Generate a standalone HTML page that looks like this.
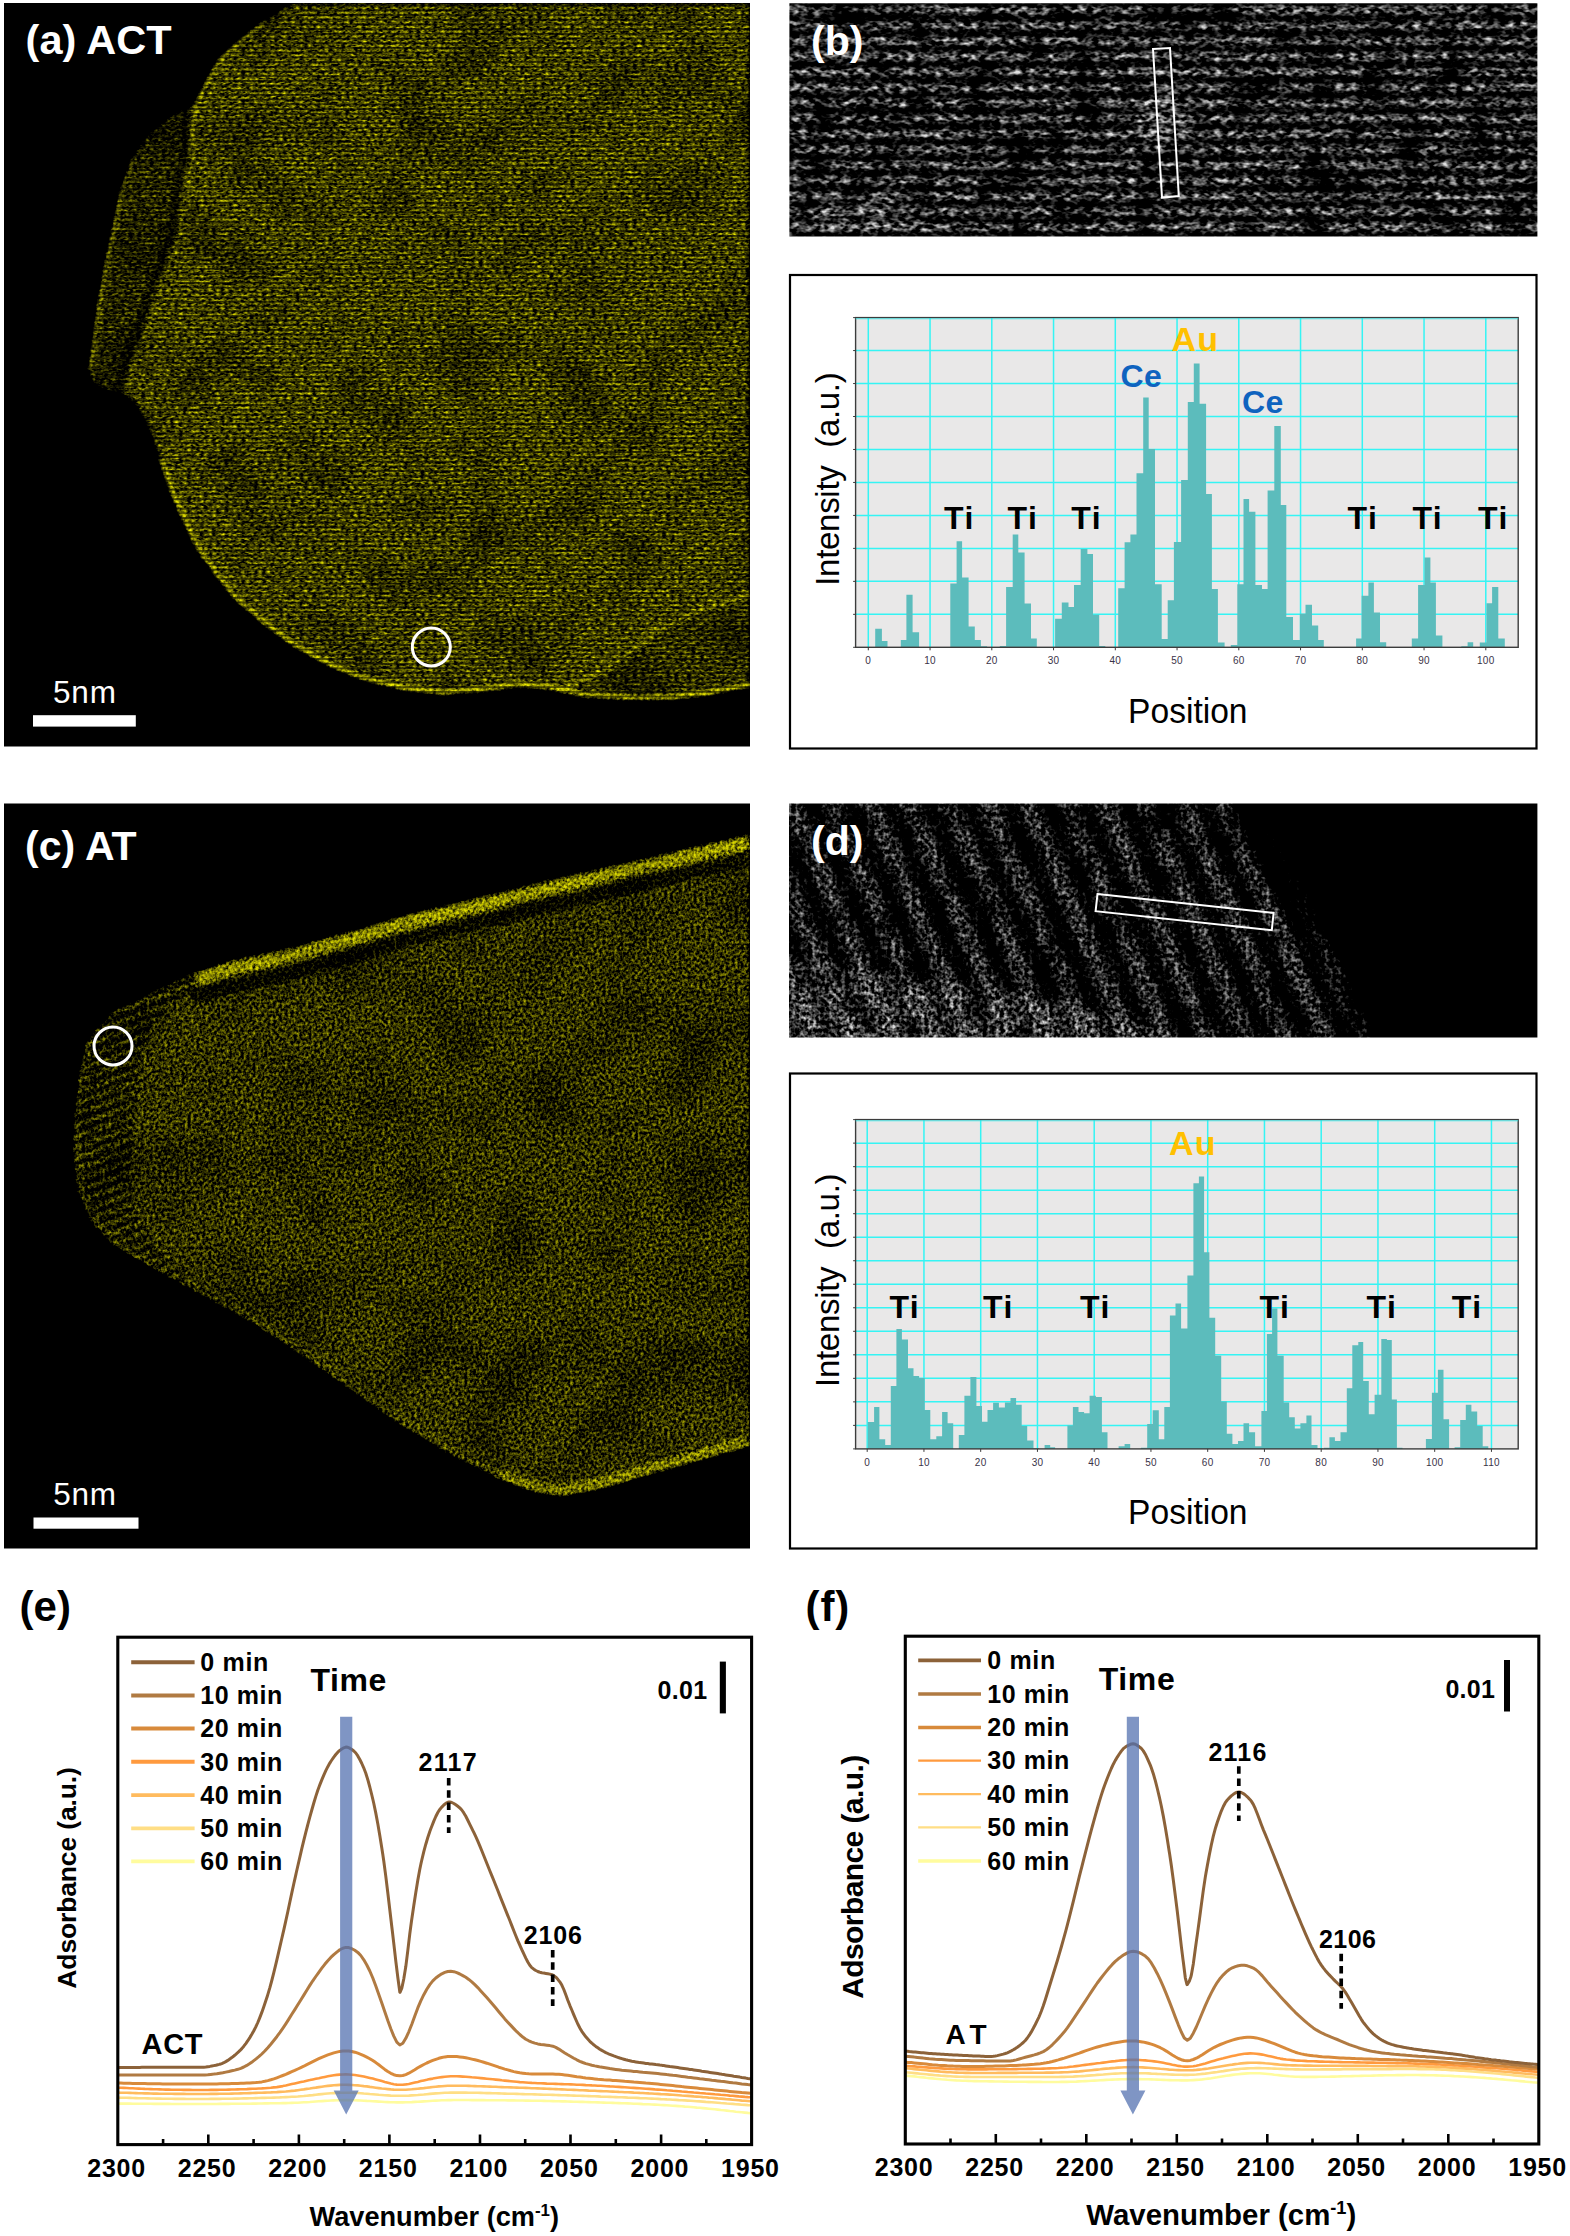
<!DOCTYPE html>
<html><head><meta charset="utf-8"><title>Figure</title>
<style>html,body{margin:0;padding:0;background:#fff}svg{display:block}text{font-family:"Liberation Sans",sans-serif}</style></head>
<body>
<svg width="1570" height="2236" viewBox="0 0 1570 2236">
<defs>
<clipPath id="cA"><rect x="4" y="3" width="746" height="743.5"/></clipPath>
<clipPath id="cC"><rect x="4" y="803.5" width="746" height="745"/></clipPath>
<clipPath id="cB"><rect x="789.4" y="3.2" width="748" height="233.3"/></clipPath>
<clipPath id="cD"><rect x="789" y="803.6" width="748.4" height="234"/></clipPath>
<filter id="fA" filterUnits="userSpaceOnUse" x="4" y="3" width="746" height="744" color-interpolation-filters="sRGB"><feGaussianBlur in="SourceGraphic" stdDeviation="2.0" result="s"/><feTurbulence type="fractalNoise" baseFrequency="0.24 0.42" numOctaves="2" seed="4" result="t"/><feColorMatrix in="t" type="matrix" values="1 0 0 0 0  1 0 0 0 0  1 0 0 0 0  0 0 0 0 1" result="n"/><feTurbulence type="fractalNoise" baseFrequency="0.018" numOctaves="2" seed="15" result="t2"/><feColorMatrix in="t2" type="matrix" values="0.55 0 0 0 0.7  0.55 0 0 0 0.7  0.55 0 0 0 0.7  0 0 0 0 1" result="n2"/><feComposite in="s" in2="n2" operator="arithmetic" k1="1" k2="0" k3="0" k4="0" result="s2"/><feComposite in="s2" in2="n" operator="arithmetic" k1="2.3" k2="-0.1" k3="0" k4="-0.44" result="g"/><feColorMatrix in="g" type="matrix" values="0.95 0 0 0 0  0.94 0 0 0 0  0 0 0 0 0  0 0 0 0 1"/></filter>
<filter id="fC" filterUnits="userSpaceOnUse" x="4" y="803" width="746" height="746" color-interpolation-filters="sRGB"><feGaussianBlur in="SourceGraphic" stdDeviation="1.7" result="s"/><feTurbulence type="fractalNoise" baseFrequency="0.34" numOctaves="2" seed="9" result="t"/><feColorMatrix in="t" type="matrix" values="1 0 0 0 0  1 0 0 0 0  1 0 0 0 0  0 0 0 0 1" result="n"/><feTurbulence type="fractalNoise" baseFrequency="0.015" numOctaves="2" seed="20" result="t2"/><feColorMatrix in="t2" type="matrix" values="0.5 0 0 0 0.72  0.5 0 0 0 0.72  0.5 0 0 0 0.72  0 0 0 0 1" result="n2"/><feComposite in="s" in2="n2" operator="arithmetic" k1="1" k2="0" k3="0" k4="0" result="s2"/><feComposite in="s2" in2="n" operator="arithmetic" k1="2.4" k2="-0.15" k3="0" k4="-0.46" result="g"/><feColorMatrix in="g" type="matrix" values="0.82 0 0 0 0  0.81 0 0 0 0  0 0 0 0 0  0 0 0 0 1"/></filter>
<filter id="fAe" filterUnits="userSpaceOnUse" x="4" y="3" width="746" height="744" color-interpolation-filters="sRGB"><feGaussianBlur in="SourceGraphic" stdDeviation="2.2" result="s"/><feTurbulence type="fractalNoise" baseFrequency="0.3 0.3" numOctaves="2" seed="14" result="t"/><feColorMatrix in="t" type="matrix" values="1 0 0 0 0  1 0 0 0 0  1 0 0 0 0  0 0 0 0 1" result="n"/><feComposite in="s" in2="n" operator="arithmetic" k1="2.0" k2="0.35" k3="0" k4="-0.45" result="g"/><feColorMatrix in="g" type="matrix" values="0 0 0 0 0.97  0 0 0 0 0.96  0 0 0 0 0  1 0 0 0 0"/></filter>
<filter id="fCe" filterUnits="userSpaceOnUse" x="4" y="803" width="746" height="746" color-interpolation-filters="sRGB"><feGaussianBlur in="SourceGraphic" stdDeviation="4.0" result="s"/><feTurbulence type="fractalNoise" baseFrequency="0.3" numOctaves="2" seed="19" result="t"/><feColorMatrix in="t" type="matrix" values="1 0 0 0 0  1 0 0 0 0  1 0 0 0 0  0 0 0 0 1" result="n"/><feComposite in="s" in2="n" operator="arithmetic" k1="2.4" k2="0.2" k3="0" k4="-0.45" result="g"/><feColorMatrix in="g" type="matrix" values="0 0 0 0 0.95  0 0 0 0 0.94  0 0 0 0 0  1 0 0 0 0"/></filter>
<filter id="fB" filterUnits="userSpaceOnUse" x="789" y="3" width="749" height="234" color-interpolation-filters="sRGB"><feGaussianBlur in="SourceGraphic" stdDeviation="1.6" result="s"/><feTurbulence type="fractalNoise" baseFrequency="0.14 0.24" numOctaves="2" seed="21" result="t"/><feColorMatrix in="t" type="matrix" values="1 0 0 0 0  1 0 0 0 0  1 0 0 0 0  0 0 0 0 1" result="n"/><feTurbulence type="fractalNoise" baseFrequency="0.03" numOctaves="2" seed="32" result="t2"/><feColorMatrix in="t2" type="matrix" values="1.6 0 0 0 0.2  1.6 0 0 0 0.2  1.6 0 0 0 0.2  0 0 0 0 1" result="n2"/><feComposite in="s" in2="n2" operator="arithmetic" k1="1" k2="0" k3="0" k4="0" result="s2"/><feComposite in="s2" in2="n" operator="arithmetic" k1="3.6" k2="-0.7" k3="0" k4="-0.41" result="g"/><feColorMatrix in="g" type="matrix" values="0.88 0 0 0 0  0.88 0 0 0 0  0.88 0 0 0 0  0 0 0 0 1"/></filter>
<filter id="fD" filterUnits="userSpaceOnUse" x="789" y="803" width="749" height="235" color-interpolation-filters="sRGB"><feGaussianBlur in="SourceGraphic" stdDeviation="3" result="s"/><feTurbulence type="fractalNoise" baseFrequency="0.24" numOctaves="2" seed="33" result="t"/><feColorMatrix in="t" type="matrix" values="1 0 0 0 0  1 0 0 0 0  1 0 0 0 0  0 0 0 0 1" result="n"/><feTurbulence type="fractalNoise" baseFrequency="0.03" numOctaves="2" seed="44" result="t2"/><feColorMatrix in="t2" type="matrix" values="1.2 0 0 0 0.4  1.2 0 0 0 0.4  1.2 0 0 0 0.4  0 0 0 0 1" result="n2"/><feComposite in="s" in2="n2" operator="arithmetic" k1="1" k2="0" k3="0" k4="0" result="s2"/><feComposite in="s2" in2="n" operator="arithmetic" k1="3.6" k2="-0.7" k3="0" k4="-0.41" result="g"/><feColorMatrix in="g" type="matrix" values="0.85 0 0 0 0  0.85 0 0 0 0  0.85 0 0 0 0  0 0 0 0 1"/></filter>
<pattern id="pRowsA" patternUnits="userSpaceOnUse" x="0" y="0" width="10" height="4.7"><rect x="0" y="0" width="10" height="2.0" fill="#000"/></pattern>
<pattern id="pRowsB" patternUnits="userSpaceOnUse" x="0" y="6" width="20" height="15.5"><rect x="0" y="0" width="20" height="8" fill="#fff"/></pattern>
<pattern id="pDiagD" patternUnits="userSpaceOnUse" x="0" y="0" width="36" height="20" patternTransform="rotate(-23.5)"><rect x="0" y="0" width="19" height="20" fill="#fff"/></pattern>
<pattern id="pDiagC" patternUnits="userSpaceOnUse" x="0" y="0" width="20" height="10.3" patternTransform="rotate(-20)"><rect x="0" y="0" width="20" height="4.6" fill="#fff"/></pattern>
</defs>
<g>
<g clip-path="url(#cA)">
<g filter="url(#fA)">
<rect x="0" y="0" width="760" height="755" fill="#000"/>
<path d="M750 3L292 3L264 20L238 41L218 59L205 82L195 102L172 115L149 132L131 158L119 191L111 229L103 267L96 306L91 344L87 372L95 385L110 392L124 395L135 403L147 425L160 460L172 495L185 525L197 550L215 575L235 600L260 622L290 645L325 665L360 680L400 690L440 695L480 692L520 687L550 690L580 697L625 700L670 700L710 695L750 687Z" fill="#fff" fill-opacity="0.6"/>
<path d="M750 3L292 3L264 20L238 41L218 59L205 82L195 102L190 132L192 153L185 178L180 217L175 242L162 280L149 318L134 357L124 395L135 403L147 425L160 460L172 495L185 525L197 550L215 575L235 600L260 622L290 645L325 665L360 680L400 690L440 695L480 692L520 687L550 690L580 697L625 700L670 700L710 695L750 687Z" fill="#fff" fill-opacity="0.375"/>
<path d="M195 102L190 132L192 153L185 178L180 217L175 242L162 280L149 318L134 357L124 395" fill="none" stroke="#000" stroke-width="7" stroke-opacity="0.25" transform="translate(-7,0)"/>
<path d="M238 41L218 59L205 82L195 102L190 132L192 153L185 178L180 217L175 242L162 280L149 318L134 357L124 395" fill="none" stroke="#fff" stroke-width="5" stroke-opacity="0.4" transform="translate(2,0)"/>
<path d="M750 600L700 612L660 632L628 656L590 680L557 694L750 720Z" fill="#000" fill-opacity="0.1"/>
<path d="M750 596L700 609L660 629L628 654L590 677L557 691" fill="none" stroke="#fff" stroke-width="6" stroke-opacity="0.5"/>
<path d="M119 191L111 229L103 267L96 306L91 344L87 372" fill="none" stroke="#fff" stroke-width="6" stroke-opacity="0.3" transform="translate(4,0)"/>
</g>
<g filter="url(#fAe)">
<rect x="0" y="0" width="760" height="755" fill="#000"/>
<path d="M160 460L172 495L185 525L197 550L215 575L235 600L260 622L290 645L325 665L360 680L400 690L440 695L480 692L520 687L550 690L580 697L625 700L670 700L710 695L750 687" fill="none" stroke="#fff" stroke-width="6" stroke-opacity="0.95" transform="translate(1,-3)"/>
<path d="M264 20L238 41L218 59L205 82L195 102L190 132L192 153" fill="none" stroke="#fff" stroke-width="4.5" stroke-opacity="0.85" transform="translate(2,1)"/>
<path d="M192 153L185 178L180 217L175 242L162 280L149 318L134 357L124 395" fill="none" stroke="#fff" stroke-width="4" stroke-opacity="0.6" transform="translate(2,0)"/>
<path d="M131 158L119 191L111 229L103 267L96 306L91 344L87 372" fill="none" stroke="#fff" stroke-width="5" stroke-opacity="0.7" transform="translate(3,0)"/>
<path d="M750 596L700 609L660 629L628 654L590 677L557 691" fill="none" stroke="#fff" stroke-width="5" stroke-opacity="0.6"/>
</g>
<rect x="4" y="3" width="746" height="743.5" fill="url(#pRowsA)" opacity="0.6"/>
</g>
<circle cx="431.3" cy="647" r="19" fill="none" stroke="#fff" stroke-width="3"/>
<rect x="33" y="715.2" width="102.8" height="11.4" fill="#fff"/>
<text x="53" y="702.6" font-size="31.5" font-weight="normal" fill="#fff" text-anchor="start" letter-spacing="0.8">5nm</text>
<text x="25.6" y="53.8" font-size="41.5" font-weight="bold" fill="#fff" text-anchor="start" >(a) ACT</text>
</g>
<g>
<g clip-path="url(#cB)">
<g filter="url(#fB)">
<rect x="780" y="-5" width="770" height="250" fill="#000"/>
<rect x="780" y="-5" width="770" height="250" fill="#fff" fill-opacity="0.34"/>
<rect x="780" y="-5" width="770" height="250" fill="url(#pRowsB)" fill-opacity="0.5"/>
<ellipse cx="1165" cy="120" rx="28" ry="32" fill="#fff" fill-opacity="0.3"/>
<ellipse cx="870" cy="215" rx="60" ry="18" fill="#fff" fill-opacity="0.3"/>
</g>
</g>
<path d="M1153 49L1170 48L1178.8 196L1162 197.6Z" fill="none" stroke="#fff" stroke-width="2"/>
<text x="811" y="54.6" font-size="41" font-weight="bold" fill="#fff" text-anchor="start" >(b)</text>
</g>
<g>
<g clip-path="url(#cC)">
<g filter="url(#fC)">
<rect x="0" y="795" width="760" height="760" fill="#000"/>
<path d="M750 833L650 856L550 879L460 901L400 915L366 926L289 947L226 961L187 975L149 992L111 1012L86 1040L78 1075L74 1110L72.5 1150L76 1190L90 1222L112 1245L145 1265L200 1295L250 1322L300 1355L350 1390L400 1425L450 1455L500 1480L535 1493L560 1497L600 1490L650 1475L700 1461L750 1447Z" fill="#fff" fill-opacity="0.44"/>
<path d="M750 833L650 856L550 879L460 901L400 915L366 926L289 947L226 961L187 975L149 992L111 1012L86 1040L78 1075L74 1110L72.5 1150L76 1190L90 1222L112 1245L145 1265L200 1295L250 1322L300 1355L350 1390L400 1425L450 1455L500 1480L535 1493L560 1497L600 1490L650 1475L700 1461L750 1447Z" fill="url(#pDiagC)" fill-opacity="0.5"/>
<path d="M750 833L650 856L550 879L460 901L400 915L366 926L289 947L226 961L200 985L170 1005L150 1030L139 1055L135 1094L132 1132L130 1170L132 1208L147 1237L170 1262L200 1295L250 1322L300 1355L350 1390L400 1425L450 1455L500 1480L535 1493L560 1497L600 1490L650 1475L700 1461L750 1447Z" fill="#000" fill-opacity="1"/>
<path d="M750 833L650 856L550 879L460 901L400 915L366 926L289 947L226 961L200 985L170 1005L150 1030L139 1055L135 1094L132 1132L130 1170L132 1208L147 1237L170 1262L200 1295L250 1322L300 1355L350 1390L400 1425L450 1455L500 1480L535 1493L560 1497L600 1490L650 1475L700 1461L750 1447Z" fill="#fff" fill-opacity="0.66"/>
<path d="M750 843L650 866L550 889L460 911L400 925L366 936L289 957L226 971L195 981" fill="none" stroke="#000" stroke-width="14" stroke-opacity="0.3" transform="translate(-3,17)"/>
<path d="M750 843L650 866L550 889L460 911L400 925L366 936L289 957L226 971L195 981" fill="none" stroke="#fff" stroke-width="14" stroke-opacity="0.75"/>
<path d="M500 1480L535 1493L560 1497L600 1490L650 1475L700 1461L750 1447" fill="none" stroke="#fff" stroke-width="12" stroke-opacity="0.6" transform="translate(0,-7)"/>
<path d="M86 1040L78 1075L74 1110L72.5 1150L76 1190L90 1222L112 1245L145 1265L200 1295L250 1322L300 1355L350 1390L400 1425L450 1455L500 1480" fill="none" stroke="#fff" stroke-width="7" stroke-opacity="0.2" transform="translate(5,-3)"/>
</g>
<g filter="url(#fCe)">
<rect x="0" y="795" width="760" height="760" fill="#000"/>
<path d="M750 843L650 866L550 889L460 911L400 925L366 936L289 957L226 971L195 981" fill="none" stroke="#fff" stroke-width="12" stroke-opacity="0.66" transform="translate(0,-1)"/>
<path d="M500 1480L535 1493L560 1497L600 1490L650 1475L700 1461L750 1447" fill="none" stroke="#fff" stroke-width="10" stroke-opacity="0.62" transform="translate(0,-6)"/>
</g>
</g>
<circle cx="113" cy="1046" r="19" fill="none" stroke="#fff" stroke-width="3"/>
<rect x="33.5" y="1517.5" width="105" height="11.2" fill="#fff"/>
<text x="53.2" y="1505.2" font-size="31.5" font-weight="normal" fill="#fff" text-anchor="start" letter-spacing="0.8">5nm</text>
<text x="25" y="860" font-size="41" font-weight="bold" fill="#fff" text-anchor="start" >(c) AT</text>
</g>
<g>
<g clip-path="url(#cD)">
<g filter="url(#fD)">
<rect x="780" y="795" width="770" height="250" fill="#000"/>
<path d="M780 795L1250 795L1285 850L1315 895L1350 940L1375 990L1397 1045L780 1045Z" fill="#fff" fill-opacity="0.28"/>
<path d="M780 795L1250 795L1285 850L1315 895L1350 940L1375 990L1397 1045L780 1045Z" fill="url(#pDiagD)" fill-opacity="0.36"/>
<path d="M780 960L900 975L1000 990L1100 1010L1200 1045L780 1045Z" fill="#fff" fill-opacity="0.3"/>
<path d="M1250 795L1285 850L1315 895L1350 940L1375 990L1397 1045" fill="none" stroke="#000" stroke-width="70" stroke-opacity="0.3"/>
<path d="M1250 795L1285 850L1315 895L1350 940L1375 990L1397 1045" fill="none" stroke="#000" stroke-width="36" stroke-opacity="0.4"/>
</g>
</g>
<path d="M1097.5 894L1273.6 913L1271.8 930.2L1095.6 911.2Z" fill="none" stroke="#fff" stroke-width="2"/>
<text x="811" y="855" font-size="41" font-weight="bold" fill="#fff" text-anchor="start" >(d)</text>
</g>
<g>
<rect x="790" y="275" width="746.5" height="473.5" fill="#fff" stroke="#000" stroke-width="2.2"/>
<rect x="855.6" y="317.6" width="662.6" height="329.69999999999993" fill="#e9e8e8"/>
<path d="M868.30 317.6V647.3M930.05 317.6V647.3M991.80 317.6V647.3M1053.55 317.6V647.3M1115.30 317.6V647.3M1177.05 317.6V647.3M1238.80 317.6V647.3M1300.55 317.6V647.3M1362.30 317.6V647.3M1424.05 317.6V647.3M1485.80 317.6V647.3M855.6 614.33H1518.2M855.6 581.36H1518.2M855.6 548.39H1518.2M855.6 515.42H1518.2M855.6 482.45H1518.2M855.6 449.48H1518.2M855.6 416.51H1518.2M855.6 383.54H1518.2M855.6 350.57H1518.2" stroke="#35f4f4" stroke-width="1.5" fill="none"/>
<path d="M875.2 647.3V628.8H881.9V647.3ZM881.9 647.3V641.1H887.5V647.3ZM900.8 647.3V640.0H906.4V647.3ZM906.4 647.3V594.7H912.6V647.3ZM912.6 647.3V632.2H919.1V647.3ZM950.3 647.3V583.6H956.6V647.3ZM956.6 647.3V541.2H962.1V647.3ZM962.1 647.3V577.5H968.6V647.3ZM968.6 647.3V626.6H974.8V647.3ZM974.8 647.3V640.0H980.9V647.3ZM980.9 647.3V646.2H987.1V647.3ZM999.8 647.3V646.0H1006.1V647.3ZM1006.1 647.3V587.1H1012.7V647.3ZM1012.7 647.3V534.5H1018.3V647.3ZM1018.3 647.3V552.4H1024.6V647.3ZM1024.6 647.3V603.6H1031.0V647.3ZM1031.0 647.3V638.4H1036.8V647.3ZM1055.1 647.3V618.8H1061.8V647.3ZM1061.8 647.3V602.5H1068.5V647.3ZM1068.5 647.3V607.0H1074.0V647.3ZM1074.0 647.3V584.9H1080.7V647.3ZM1080.7 647.3V549.0H1087.4V647.3ZM1087.4 647.3V554.1H1093.0V647.3ZM1093.0 647.3V614.8H1099.2V647.3ZM1099.2 647.3V646.0H1105.3V647.3ZM1118.2 647.3V588.2H1124.6V647.3ZM1124.6 647.3V542.3H1130.4V647.3ZM1130.4 647.3V534.5H1136.5V647.3ZM1136.5 647.3V473.2H1143.2V647.3ZM1143.2 647.3V397.4H1148.7V647.3ZM1148.7 647.3V448.9H1155.0V647.3ZM1155.0 647.3V584.2H1161.7V647.3ZM1161.7 647.3V638.9H1167.7V647.3ZM1167.7 647.3V600.3H1173.9V647.3ZM1173.9 647.3V541.9H1181.1V647.3ZM1181.1 647.3V479.9H1187.8V647.3ZM1187.8 647.3V401.9H1193.8V647.3ZM1193.8 647.3V363.5H1199.6V647.3ZM1199.6 647.3V403.7H1206.1V647.3ZM1206.1 647.3V493.9H1211.9V647.3ZM1211.9 647.3V589.1H1217.9V647.3ZM1217.9 647.3V642.6H1224.6V647.3ZM1230.8 647.3V644.9H1237.3V647.3ZM1237.3 647.3V584.2H1243.5V647.3ZM1243.5 647.3V499.1H1249.1V647.3ZM1249.1 647.3V511.8H1255.4V647.3ZM1255.4 647.3V584.9H1262.0V647.3ZM1262.0 647.3V589.1H1267.6V647.3ZM1267.6 647.3V490.6H1274.3V647.3ZM1274.3 647.3V426.0H1280.8V647.3ZM1280.8 647.3V505.1H1286.3V647.3ZM1286.3 647.3V617.0H1293.0V647.3ZM1293.0 647.3V640.0H1299.9V647.3ZM1299.9 647.3V613.7H1305.5V647.3ZM1305.5 647.3V604.7H1312.0V647.3ZM1312.0 647.3V625.5H1318.2V647.3ZM1318.2 647.3V640.0H1323.8V647.3ZM1356.1 647.3V638.4H1361.7V647.3ZM1361.7 647.3V595.8H1368.4V647.3ZM1368.4 647.3V582.5H1373.9V647.3ZM1373.9 647.3V612.5H1380.0V647.3ZM1380.0 647.3V642.2H1386.2V647.3ZM1411.8 647.3V638.4H1418.1V647.3ZM1418.1 647.3V584.9H1424.6V647.3ZM1424.6 647.3V557.5H1430.4V647.3ZM1430.4 647.3V582.5H1435.9V647.3ZM1435.9 647.3V635.5H1442.4V647.3ZM1461.3 647.3V646.2H1467.6V647.3ZM1467.6 647.3V642.2H1473.2V647.3ZM1479.8 647.3V642.6H1486.5V647.3ZM1486.5 647.3V603.2H1492.1V647.3ZM1492.1 647.3V587.1H1498.3V647.3ZM1498.3 647.3V638.4H1504.8V647.3Z" fill="#5cbcbc"/>
<rect x="855.6" y="317.6" width="662.6" height="329.69999999999993" fill="none" stroke="#3c3c3c" stroke-width="1.4"/>
<path d="M855.6 317.6H1518.2" stroke="#35f4f4" stroke-width="0.8" fill="none" transform="translate(0,1.2)"/>
<path d="M853.1 647.30H855.6M853.1 614.33H855.6M853.1 581.36H855.6M853.1 548.39H855.6M853.1 515.42H855.6M853.1 482.45H855.6M853.1 449.48H855.6M853.1 416.51H855.6M853.1 383.54H855.6M853.1 350.57H855.6M853.1 317.60H855.6M868.30 647.3V650.3M930.05 647.3V650.3M991.80 647.3V650.3M1053.55 647.3V650.3M1115.30 647.3V650.3M1177.05 647.3V650.3M1238.80 647.3V650.3M1300.55 647.3V650.3M1362.30 647.3V650.3M1424.05 647.3V650.3M1485.80 647.3V650.3" stroke="#3c3c3c" stroke-width="1" fill="none"/>
<text x="868.3" y="663.8" font-size="10" font-weight="normal" fill="#3a3348" text-anchor="middle" letter-spacing="0.3">0</text>
<text x="930.0" y="663.8" font-size="10" font-weight="normal" fill="#3a3348" text-anchor="middle" letter-spacing="0.3">10</text>
<text x="991.8" y="663.8" font-size="10" font-weight="normal" fill="#3a3348" text-anchor="middle" letter-spacing="0.3">20</text>
<text x="1053.5" y="663.8" font-size="10" font-weight="normal" fill="#3a3348" text-anchor="middle" letter-spacing="0.3">30</text>
<text x="1115.3" y="663.8" font-size="10" font-weight="normal" fill="#3a3348" text-anchor="middle" letter-spacing="0.3">40</text>
<text x="1177.0" y="663.8" font-size="10" font-weight="normal" fill="#3a3348" text-anchor="middle" letter-spacing="0.3">50</text>
<text x="1238.8" y="663.8" font-size="10" font-weight="normal" fill="#3a3348" text-anchor="middle" letter-spacing="0.3">60</text>
<text x="1300.5" y="663.8" font-size="10" font-weight="normal" fill="#3a3348" text-anchor="middle" letter-spacing="0.3">70</text>
<text x="1362.3" y="663.8" font-size="10" font-weight="normal" fill="#3a3348" text-anchor="middle" letter-spacing="0.3">80</text>
<text x="1424.0" y="663.8" font-size="10" font-weight="normal" fill="#3a3348" text-anchor="middle" letter-spacing="0.3">90</text>
<text x="1485.8" y="663.8" font-size="10" font-weight="normal" fill="#3a3348" text-anchor="middle" letter-spacing="0.3">100</text>
<text x="944" y="529" font-size="32" font-weight="bold" fill="#000" text-anchor="start" letter-spacing="1.5">Ti</text>
<text x="1007.6" y="529" font-size="32" font-weight="bold" fill="#000" text-anchor="start" letter-spacing="1.5">Ti</text>
<text x="1071.2" y="529" font-size="32" font-weight="bold" fill="#000" text-anchor="start" letter-spacing="1.5">Ti</text>
<text x="1347.6" y="529" font-size="32" font-weight="bold" fill="#000" text-anchor="start" letter-spacing="1.5">Ti</text>
<text x="1412.4" y="529" font-size="32" font-weight="bold" fill="#000" text-anchor="start" letter-spacing="1.5">Ti</text>
<text x="1478" y="529" font-size="32" font-weight="bold" fill="#000" text-anchor="start" letter-spacing="1.5">Ti</text>
<text x="1120.5" y="387" font-size="32" font-weight="bold" fill="#0f63bf" text-anchor="start" letter-spacing="0.5">Ce</text>
<text x="1242" y="412.6" font-size="32" font-weight="bold" fill="#0f63bf" text-anchor="start" letter-spacing="0.5">Ce</text>
<text x="1171.6" y="350.6" font-size="34" font-weight="bold" fill="#ffc000" text-anchor="start" letter-spacing="1.2">Au</text>
<text x="1187.8" y="723" font-size="34.5" font-weight="normal" fill="#000" text-anchor="middle" textLength="119.5" lengthAdjust="spacingAndGlyphs">Position</text>
<text transform="translate(838.5,479) rotate(-90)" font-size="33" text-anchor="middle" textLength="213.5" lengthAdjust="spacing" xml:space="preserve">Intensity  (a.u.)</text>
</g>
<g>
<rect x="790" y="1073.5" width="746.5" height="475.0" fill="#fff" stroke="#000" stroke-width="2.2"/>
<rect x="855.6" y="1119.6" width="662.6" height="329.3000000000002" fill="#e9e8e8"/>
<path d="M867.20 1119.6V1448.9M923.95 1119.6V1448.9M980.70 1119.6V1448.9M1037.45 1119.6V1448.9M1094.20 1119.6V1448.9M1150.95 1119.6V1448.9M1207.70 1119.6V1448.9M1264.45 1119.6V1448.9M1321.20 1119.6V1448.9M1377.95 1119.6V1448.9M1434.70 1119.6V1448.9M1491.45 1119.6V1448.9M855.6 1425.38H1518.2M855.6 1401.86H1518.2M855.6 1378.34H1518.2M855.6 1354.82H1518.2M855.6 1331.30H1518.2M855.6 1307.78H1518.2M855.6 1284.26H1518.2M855.6 1260.74H1518.2M855.6 1237.22H1518.2M855.6 1213.70H1518.2M855.6 1190.18H1518.2M855.6 1166.66H1518.2M855.6 1143.14H1518.2" stroke="#35f4f4" stroke-width="1.5" fill="none"/>
<path d="M867.8 1448.9V1422.1H874.1V1448.9ZM874.1 1448.9V1407.0H879.4V1448.9ZM879.4 1448.9V1439.3H885.2V1448.9ZM885.2 1448.9V1444.9H890.8V1448.9ZM890.8 1448.9V1386.0H896.4V1448.9ZM896.4 1448.9V1328.9H901.9V1448.9ZM901.9 1448.9V1339.6H908.0V1448.9ZM908.0 1448.9V1368.2H913.5V1448.9ZM913.5 1448.9V1376.0H919.1V1448.9ZM919.1 1448.9V1378.0H924.7V1448.9ZM924.7 1448.9V1409.9H930.3V1448.9ZM930.3 1448.9V1439.3H936.3V1448.9ZM936.3 1448.9V1436.2H942.1V1448.9ZM942.1 1448.9V1412.1H947.6V1448.9ZM947.6 1448.9V1423.2H953.2V1448.9ZM958.8 1448.9V1435.1H964.4V1448.9ZM964.4 1448.9V1395.8H970.4V1448.9ZM970.4 1448.9V1376.9H976.4V1448.9ZM976.4 1448.9V1405.9H982.0V1448.9ZM982.0 1448.9V1421.7H987.5V1448.9ZM987.5 1448.9V1409.9H993.1V1448.9ZM993.1 1448.9V1402.7H998.9V1448.9ZM998.9 1448.9V1407.6H1004.9V1448.9ZM1004.9 1448.9V1402.5H1010.5V1448.9ZM1010.5 1448.9V1398.1H1016.1V1448.9ZM1016.1 1448.9V1404.7H1021.7V1448.9ZM1021.7 1448.9V1425.9H1027.2V1448.9ZM1027.2 1448.9V1440.6H1033.5V1448.9ZM1033.5 1448.9V1448.2H1039.0V1448.9ZM1044.6 1448.9V1445.1H1050.2V1448.9ZM1050.2 1448.9V1447.3H1055.1V1448.9ZM1067.4 1448.9V1425.5H1072.9V1448.9ZM1072.9 1448.9V1407.0H1078.5V1448.9ZM1078.5 1448.9V1412.1H1084.1V1448.9ZM1084.1 1448.9V1413.2H1089.6V1448.9ZM1089.6 1448.9V1395.8H1095.9V1448.9ZM1095.9 1448.9V1396.9H1101.9V1448.9ZM1101.9 1448.9V1432.2H1107.5V1448.9ZM1118.6 1448.9V1446.2H1124.6V1448.9ZM1124.6 1448.9V1444.0H1130.2V1448.9ZM1140.9 1448.9V1447.8H1147.2V1448.9ZM1147.2 1448.9V1423.9H1152.7V1448.9ZM1152.7 1448.9V1410.3H1158.8V1448.9ZM1158.8 1448.9V1439.3H1164.3V1448.9ZM1164.3 1448.9V1407.0H1169.9V1448.9ZM1169.9 1448.9V1315.6H1175.5V1448.9ZM1175.5 1448.9V1303.5H1181.1V1448.9ZM1181.1 1448.9V1328.5H1187.4V1448.9ZM1187.4 1448.9V1275.4H1193.4V1448.9ZM1193.4 1448.9V1183.2H1198.9V1448.9ZM1198.9 1448.9V1176.5H1204.1V1448.9ZM1204.1 1448.9V1252.3H1209.4V1448.9ZM1209.4 1448.9V1317.8H1215.2V1448.9ZM1215.2 1448.9V1355.7H1221.2V1448.9ZM1221.2 1448.9V1401.4H1226.8V1448.9ZM1226.8 1448.9V1433.7H1232.4V1448.9ZM1232.4 1448.9V1444.0H1238.0V1448.9ZM1238.0 1448.9V1441.1H1243.5V1448.9ZM1243.5 1448.9V1423.2H1249.1V1448.9ZM1249.1 1448.9V1432.2H1255.1V1448.9ZM1255.1 1448.9V1446.2H1261.4V1448.9ZM1261.4 1448.9V1411.0H1266.9V1448.9ZM1266.9 1448.9V1334.1H1272.1V1448.9ZM1272.1 1448.9V1308.4H1277.4V1448.9ZM1277.4 1448.9V1355.7H1283.7V1448.9ZM1283.7 1448.9V1402.5H1289.2V1448.9ZM1289.2 1448.9V1417.2H1294.8V1448.9ZM1294.8 1448.9V1428.4H1300.4V1448.9ZM1300.4 1448.9V1423.2H1306.4V1448.9ZM1306.4 1448.9V1415.4H1311.5V1448.9ZM1311.5 1448.9V1444.9H1317.5V1448.9ZM1317.5 1448.9V1448.2H1322.7V1448.9ZM1323.8 1448.9V1447.8H1329.4V1448.9ZM1329.4 1448.9V1437.3H1334.9V1448.9ZM1334.9 1448.9V1441.1H1340.5V1448.9ZM1340.5 1448.9V1432.2H1346.8V1448.9ZM1346.8 1448.9V1388.2H1352.3V1448.9ZM1352.3 1448.9V1345.2H1358.3V1448.9ZM1358.3 1448.9V1341.9H1363.2V1448.9ZM1363.2 1448.9V1380.9H1368.8V1448.9ZM1368.8 1448.9V1414.3H1374.6V1448.9ZM1374.6 1448.9V1394.7H1381.3V1448.9ZM1381.3 1448.9V1339.0H1386.9V1448.9ZM1386.9 1448.9V1340.1H1391.8V1448.9ZM1391.8 1448.9V1399.4H1396.9V1448.9ZM1396.9 1448.9V1447.8H1402.5V1448.9ZM1425.9 1448.9V1438.9H1431.9V1448.9ZM1431.9 1448.9V1392.7H1437.9V1448.9ZM1437.9 1448.9V1369.7H1443.5V1448.9ZM1443.5 1448.9V1419.2H1449.1V1448.9ZM1454.6 1448.9V1447.3H1460.2V1448.9ZM1460.2 1448.9V1419.9H1465.8V1448.9ZM1465.8 1448.9V1404.7H1471.4V1448.9ZM1471.4 1448.9V1411.4H1477.2V1448.9ZM1477.2 1448.9V1425.9H1482.7V1448.9ZM1482.7 1448.9V1446.2H1488.3V1448.9Z" fill="#5cbcbc"/>
<rect x="855.6" y="1119.6" width="662.6" height="329.3000000000002" fill="none" stroke="#3c3c3c" stroke-width="1.4"/>
<path d="M855.6 1119.6H1518.2" stroke="#35f4f4" stroke-width="0.8" fill="none" transform="translate(0,1.2)"/>
<path d="M853.1 1448.90H855.6M853.1 1425.38H855.6M853.1 1401.86H855.6M853.1 1378.34H855.6M853.1 1354.82H855.6M853.1 1331.30H855.6M853.1 1307.78H855.6M853.1 1284.26H855.6M853.1 1260.74H855.6M853.1 1237.22H855.6M853.1 1213.70H855.6M853.1 1190.18H855.6M853.1 1166.66H855.6M853.1 1143.14H855.6M853.1 1119.62H855.6M867.20 1448.9V1451.9M923.95 1448.9V1451.9M980.70 1448.9V1451.9M1037.45 1448.9V1451.9M1094.20 1448.9V1451.9M1150.95 1448.9V1451.9M1207.70 1448.9V1451.9M1264.45 1448.9V1451.9M1321.20 1448.9V1451.9M1377.95 1448.9V1451.9M1434.70 1448.9V1451.9M1491.45 1448.9V1451.9" stroke="#3c3c3c" stroke-width="1" fill="none"/>
<text x="867.2" y="1466" font-size="10" font-weight="normal" fill="#3a3348" text-anchor="middle" letter-spacing="0.3">0</text>
<text x="924.0" y="1466" font-size="10" font-weight="normal" fill="#3a3348" text-anchor="middle" letter-spacing="0.3">10</text>
<text x="980.7" y="1466" font-size="10" font-weight="normal" fill="#3a3348" text-anchor="middle" letter-spacing="0.3">20</text>
<text x="1037.5" y="1466" font-size="10" font-weight="normal" fill="#3a3348" text-anchor="middle" letter-spacing="0.3">30</text>
<text x="1094.2" y="1466" font-size="10" font-weight="normal" fill="#3a3348" text-anchor="middle" letter-spacing="0.3">40</text>
<text x="1151.0" y="1466" font-size="10" font-weight="normal" fill="#3a3348" text-anchor="middle" letter-spacing="0.3">50</text>
<text x="1207.7" y="1466" font-size="10" font-weight="normal" fill="#3a3348" text-anchor="middle" letter-spacing="0.3">60</text>
<text x="1264.5" y="1466" font-size="10" font-weight="normal" fill="#3a3348" text-anchor="middle" letter-spacing="0.3">70</text>
<text x="1321.2" y="1466" font-size="10" font-weight="normal" fill="#3a3348" text-anchor="middle" letter-spacing="0.3">80</text>
<text x="1378.0" y="1466" font-size="10" font-weight="normal" fill="#3a3348" text-anchor="middle" letter-spacing="0.3">90</text>
<text x="1434.7" y="1466" font-size="10" font-weight="normal" fill="#3a3348" text-anchor="middle" letter-spacing="0.3">100</text>
<text x="1491.5" y="1466" font-size="10" font-weight="normal" fill="#3a3348" text-anchor="middle" letter-spacing="0.3">110</text>
<text x="889.4" y="1317.8" font-size="32" font-weight="bold" fill="#000" text-anchor="start" letter-spacing="1.5">Ti</text>
<text x="983" y="1317.8" font-size="32" font-weight="bold" fill="#000" text-anchor="start" letter-spacing="1.5">Ti</text>
<text x="1080" y="1317.8" font-size="32" font-weight="bold" fill="#000" text-anchor="start" letter-spacing="1.5">Ti</text>
<text x="1259.6" y="1317.8" font-size="32" font-weight="bold" fill="#000" text-anchor="start" letter-spacing="1.5">Ti</text>
<text x="1366.6" y="1317.8" font-size="32" font-weight="bold" fill="#000" text-anchor="start" letter-spacing="1.5">Ti</text>
<text x="1451.8" y="1317.8" font-size="32" font-weight="bold" fill="#000" text-anchor="start" letter-spacing="1.5">Ti</text>
<text x="1169" y="1154.6" font-size="34" font-weight="bold" fill="#ffc000" text-anchor="start" letter-spacing="1.2">Au</text>
<text x="1187.8" y="1524" font-size="34.5" font-weight="normal" fill="#000" text-anchor="middle" textLength="119.5" lengthAdjust="spacingAndGlyphs">Position</text>
<text transform="translate(838.5,1280.2) rotate(-90)" font-size="33" text-anchor="middle" textLength="213.5" lengthAdjust="spacing" xml:space="preserve">Intensity  (a.u.)</text>
</g>
<g>
<path d="M117.8 2103.5L120.8 2103.6L123.8 2103.6L126.8 2103.6L129.8 2103.6L132.8 2103.7L135.8 2103.7L138.8 2103.7L141.8 2103.8L144.8 2103.8L147.8 2103.8L150.8 2103.8L153.8 2103.9L156.8 2103.9L159.8 2103.9L162.8 2103.9L165.8 2103.9L168.8 2103.9L171.8 2104.0L174.8 2104.0L177.8 2104.0L180.8 2104.0L183.8 2104.0L186.8 2104.0L189.8 2104.0L192.8 2104.0L195.8 2104.0L198.8 2104.0L201.8 2104.0L204.8 2104.0L207.8 2104.0L210.8 2104.0L213.8 2104.0L216.8 2104.0L219.8 2103.9L222.8 2103.9L225.8 2103.9L228.8 2103.9L231.8 2103.8L234.8 2103.8L237.8 2103.8L240.8 2103.8L243.8 2103.7L246.8 2103.7L249.8 2103.7L252.8 2103.6L255.8 2103.6L258.8 2103.5L261.8 2103.5L264.8 2103.4L267.8 2103.4L270.8 2103.3L273.8 2103.3L276.8 2103.2L279.8 2103.2L282.8 2103.1L285.8 2103.1L288.8 2103.0L291.8 2102.9L294.8 2102.8L297.8 2102.7L300.8 2102.5L303.8 2102.3L306.8 2102.2L309.8 2102.0L312.8 2101.7L315.8 2101.5L318.8 2101.3L321.8 2101.1L324.8 2100.9L327.8 2100.7L330.8 2100.5L333.8 2100.4L336.8 2100.3L339.8 2100.2L342.8 2100.1L345.8 2100.1L348.8 2100.1L351.8 2100.2L354.8 2100.3L357.8 2100.4L360.8 2100.5L363.8 2100.7L366.8 2100.9L369.8 2101.0L372.8 2101.2L375.8 2101.4L378.8 2101.6L381.8 2101.8L384.8 2102.0L387.8 2102.1L390.8 2102.2L393.8 2102.3L396.8 2102.4L399.8 2102.4L402.8 2102.4L405.8 2102.3L408.8 2102.2L411.8 2102.1L414.8 2101.9L417.8 2101.8L420.8 2101.6L423.8 2101.4L426.8 2101.2L429.8 2101.0L432.8 2100.8L435.8 2100.6L438.8 2100.5L441.8 2100.3L444.8 2100.2L447.8 2100.1L450.8 2100.1L453.8 2100.0L456.8 2100.0L459.8 2100.0L462.8 2100.0L465.8 2100.0L468.8 2100.0L471.8 2100.1L474.8 2100.1L477.8 2100.1L480.8 2100.1L483.8 2100.1L486.8 2100.2L489.8 2100.2L492.8 2100.2L495.8 2100.2L498.8 2100.3L501.8 2100.3L504.8 2100.3L507.8 2100.4L510.8 2100.4L513.8 2100.4L516.8 2100.5L519.8 2100.5L522.8 2100.5L525.8 2100.6L528.8 2100.6L531.8 2100.7L534.8 2100.7L537.8 2100.8L540.8 2100.8L543.8 2100.9L546.8 2101.0L549.8 2101.0L552.8 2101.1L555.8 2101.2L558.8 2101.3L561.8 2101.4L564.8 2101.4L567.8 2101.5L570.8 2101.6L573.8 2101.7L576.8 2101.8L579.8 2101.9L582.8 2101.9L585.8 2102.0L588.8 2102.1L591.8 2102.2L594.8 2102.3L597.8 2102.4L600.8 2102.5L603.8 2102.6L606.8 2102.7L609.8 2102.8L612.8 2102.9L615.8 2103.0L618.8 2103.1L621.8 2103.2L624.8 2103.3L627.8 2103.4L630.8 2103.5L633.8 2103.7L636.8 2103.8L639.8 2103.9L642.8 2104.1L645.8 2104.2L648.8 2104.3L651.8 2104.5L654.8 2104.6L657.8 2104.8L660.8 2105.0L663.8 2105.1L666.8 2105.3L669.8 2105.5L672.8 2105.7L675.8 2105.9L678.8 2106.1L681.8 2106.3L684.8 2106.6L687.8 2106.8L690.8 2107.0L693.8 2107.3L696.8 2107.6L699.8 2107.8L702.8 2108.1L705.8 2108.4L708.8 2108.7L711.8 2109.0L714.8 2109.3L717.8 2109.6L720.8 2110.0L723.8 2110.3L726.8 2110.6L729.8 2111.0L732.8 2111.3L735.8 2111.7L738.8 2112.0L741.8 2112.3L744.8 2112.6L747.8 2112.9L750.8 2113.1" fill="none" stroke="#fffc9e" stroke-width="2.6" stroke-linejoin="round"/>
<path d="M117.8 2097.6L120.8 2097.7L123.8 2097.7L126.8 2097.8L129.8 2097.9L132.8 2098.0L135.8 2098.1L138.8 2098.2L141.8 2098.2L144.8 2098.3L147.8 2098.4L150.8 2098.5L153.8 2098.5L156.8 2098.6L159.8 2098.6L162.8 2098.7L165.8 2098.7L168.8 2098.8L171.8 2098.8L174.8 2098.9L177.8 2098.9L180.8 2098.9L183.8 2098.9L186.8 2099.0L189.8 2099.0L192.8 2099.0L195.8 2099.0L198.8 2099.0L201.8 2099.0L204.8 2099.0L207.8 2099.0L210.8 2098.9L213.8 2098.9L216.8 2098.9L219.8 2098.9L222.8 2098.8L225.8 2098.8L228.8 2098.7L231.8 2098.7L234.8 2098.6L237.8 2098.6L240.8 2098.5L243.8 2098.4L246.8 2098.4L249.8 2098.3L252.8 2098.2L255.8 2098.1L258.8 2098.0L261.8 2097.9L264.8 2097.9L267.8 2097.8L270.8 2097.7L273.8 2097.6L276.8 2097.5L279.8 2097.4L282.8 2097.2L285.8 2097.1L288.8 2097.0L291.8 2096.8L294.8 2096.7L297.8 2096.5L300.8 2096.2L303.8 2096.0L306.8 2095.7L309.8 2095.4L312.8 2095.1L315.8 2094.7L318.8 2094.4L321.8 2094.1L324.8 2093.8L327.8 2093.5L330.8 2093.3L333.8 2093.1L336.8 2092.9L339.8 2092.8L342.8 2092.7L345.8 2092.7L348.8 2092.7L351.8 2092.7L354.8 2092.9L357.8 2093.0L360.8 2093.2L363.8 2093.5L366.8 2093.7L369.8 2094.0L372.8 2094.2L375.8 2094.5L378.8 2094.8L381.8 2095.0L384.8 2095.2L387.8 2095.4L390.8 2095.6L393.8 2095.7L396.8 2095.8L399.8 2095.8L402.8 2095.8L405.8 2095.7L408.8 2095.6L411.8 2095.4L414.8 2095.2L417.8 2095.0L420.8 2094.7L423.8 2094.5L426.8 2094.2L429.8 2093.9L432.8 2093.6L435.8 2093.4L438.8 2093.2L441.8 2093.0L444.8 2092.8L447.8 2092.7L450.8 2092.6L453.8 2092.6L456.8 2092.6L459.8 2092.6L462.8 2092.6L465.8 2092.6L468.8 2092.7L471.8 2092.7L474.8 2092.8L477.8 2092.8L480.8 2092.9L483.8 2093.0L486.8 2093.1L489.8 2093.1L492.8 2093.2L495.8 2093.3L498.8 2093.4L501.8 2093.5L504.8 2093.6L507.8 2093.7L510.8 2093.7L513.8 2093.8L516.8 2093.9L519.8 2094.0L522.8 2094.1L525.8 2094.2L528.8 2094.2L531.8 2094.3L534.8 2094.4L537.8 2094.5L540.8 2094.6L543.8 2094.7L546.8 2094.8L549.8 2094.8L552.8 2094.9L555.8 2095.0L558.8 2095.1L561.8 2095.2L564.8 2095.3L567.8 2095.4L570.8 2095.5L573.8 2095.6L576.8 2095.7L579.8 2095.8L582.8 2095.9L585.8 2096.0L588.8 2096.1L591.8 2096.2L594.8 2096.3L597.8 2096.4L600.8 2096.6L603.8 2096.7L606.8 2096.8L609.8 2096.9L612.8 2097.0L615.8 2097.1L618.8 2097.2L621.8 2097.3L624.8 2097.4L627.8 2097.6L630.8 2097.7L633.8 2097.8L636.8 2097.9L639.8 2098.1L642.8 2098.2L645.8 2098.3L648.8 2098.5L651.8 2098.6L654.8 2098.8L657.8 2098.9L660.8 2099.1L663.8 2099.2L666.8 2099.4L669.8 2099.5L672.8 2099.7L675.8 2099.9L678.8 2100.1L681.8 2100.2L684.8 2100.4L687.8 2100.6L690.8 2100.8L693.8 2101.0L696.8 2101.2L699.8 2101.4L702.8 2101.6L705.8 2101.9L708.8 2102.1L711.8 2102.3L714.8 2102.5L717.8 2102.7L720.8 2103.0L723.8 2103.2L726.8 2103.5L729.8 2103.7L732.8 2103.9L735.8 2104.2L738.8 2104.4L741.8 2104.7L744.8 2104.9L747.8 2105.1L750.8 2105.2" fill="none" stroke="#ffde85" stroke-width="2.6" stroke-linejoin="round"/>
<path d="M117.8 2092.6L120.8 2092.7L123.8 2092.7L126.8 2092.8L129.8 2092.9L132.8 2093.0L135.8 2093.1L138.8 2093.2L141.8 2093.3L144.8 2093.4L147.8 2093.4L150.8 2093.5L153.8 2093.6L156.8 2093.6L159.8 2093.7L162.8 2093.7L165.8 2093.8L168.8 2093.8L171.8 2093.8L174.8 2093.9L177.8 2093.9L180.8 2093.9L183.8 2093.9L186.8 2094.0L189.8 2094.0L192.8 2094.0L195.8 2094.0L198.8 2094.0L201.8 2094.0L204.8 2094.0L207.8 2094.0L210.8 2093.9L213.8 2093.9L216.8 2093.9L219.8 2093.8L222.8 2093.8L225.8 2093.7L228.8 2093.7L231.8 2093.6L234.8 2093.5L237.8 2093.5L240.8 2093.4L243.8 2093.3L246.8 2093.2L249.8 2093.1L252.8 2093.0L255.8 2092.9L258.8 2092.8L261.8 2092.7L264.8 2092.6L267.8 2092.5L270.8 2092.4L273.8 2092.2L276.8 2092.1L279.8 2091.9L282.8 2091.7L285.8 2091.5L288.8 2091.2L291.8 2090.9L294.8 2090.6L297.8 2090.2L300.8 2089.8L303.8 2089.4L306.8 2088.9L309.8 2088.5L312.8 2088.0L315.8 2087.6L318.8 2087.1L321.8 2086.7L324.8 2086.3L327.8 2085.9L330.8 2085.6L333.8 2085.3L336.8 2085.1L339.8 2084.9L342.8 2084.8L345.8 2084.8L348.8 2084.9L351.8 2085.0L354.8 2085.2L357.8 2085.4L360.8 2085.7L363.8 2086.1L366.8 2086.4L369.8 2086.9L372.8 2087.3L375.8 2087.7L378.8 2088.1L381.8 2088.5L384.8 2088.8L387.8 2089.1L390.8 2089.4L393.8 2089.6L396.8 2089.7L399.8 2089.8L402.8 2089.8L405.8 2089.7L408.8 2089.5L411.8 2089.3L414.8 2089.0L417.8 2088.7L420.8 2088.4L423.8 2088.1L426.8 2087.7L429.8 2087.4L432.8 2087.0L435.8 2086.7L438.8 2086.4L441.8 2086.2L444.8 2086.0L447.8 2085.8L450.8 2085.8L453.8 2085.7L456.8 2085.7L459.8 2085.7L462.8 2085.8L465.8 2085.8L468.8 2085.9L471.8 2086.0L474.8 2086.1L477.8 2086.2L480.8 2086.3L483.8 2086.4L486.8 2086.5L489.8 2086.6L492.8 2086.7L495.8 2086.8L498.8 2087.0L501.8 2087.1L504.8 2087.2L507.8 2087.3L510.8 2087.4L513.8 2087.5L516.8 2087.6L519.8 2087.7L522.8 2087.8L525.8 2087.9L528.8 2088.0L531.8 2088.2L534.8 2088.3L537.8 2088.4L540.8 2088.5L543.8 2088.6L546.8 2088.8L549.8 2088.9L552.8 2089.0L555.8 2089.1L558.8 2089.3L561.8 2089.4L564.8 2089.5L567.8 2089.7L570.8 2089.8L573.8 2089.9L576.8 2090.0L579.8 2090.2L582.8 2090.3L585.8 2090.4L588.8 2090.6L591.8 2090.7L594.8 2090.8L597.8 2091.0L600.8 2091.1L603.8 2091.2L606.8 2091.3L609.8 2091.5L612.8 2091.6L615.8 2091.7L618.8 2091.9L621.8 2092.0L624.8 2092.2L627.8 2092.3L630.8 2092.4L633.8 2092.6L636.8 2092.7L639.8 2092.9L642.8 2093.0L645.8 2093.2L648.8 2093.4L651.8 2093.5L654.8 2093.7L657.8 2093.9L660.8 2094.1L663.8 2094.2L666.8 2094.4L669.8 2094.6L672.8 2094.8L675.8 2095.0L678.8 2095.2L681.8 2095.5L684.8 2095.7L687.8 2095.9L690.8 2096.1L693.8 2096.4L696.8 2096.6L699.8 2096.8L702.8 2097.1L705.8 2097.3L708.8 2097.6L711.8 2097.8L714.8 2098.1L717.8 2098.4L720.8 2098.6L723.8 2098.9L726.8 2099.2L729.8 2099.4L732.8 2099.7L735.8 2100.0L738.8 2100.3L741.8 2100.6L744.8 2100.8L747.8 2101.0L750.8 2101.2" fill="none" stroke="#ffbb5e" stroke-width="2.6" stroke-linejoin="round"/>
<path d="M117.8 2087.7L120.8 2087.8L123.8 2087.9L126.8 2088.0L129.8 2088.2L132.8 2088.3L135.8 2088.5L138.8 2088.6L141.8 2088.7L144.8 2088.9L147.8 2089.0L150.8 2089.1L153.8 2089.2L156.8 2089.3L159.8 2089.4L162.8 2089.5L165.8 2089.6L168.8 2089.6L171.8 2089.7L174.8 2089.8L177.8 2089.8L180.8 2089.8L183.8 2089.9L186.8 2089.9L189.8 2089.9L192.8 2090.0L195.8 2090.0L198.8 2090.0L201.8 2090.0L204.8 2090.0L207.8 2090.0L210.8 2089.9L213.8 2089.9L216.8 2089.9L219.8 2089.8L222.8 2089.8L225.8 2089.7L228.8 2089.6L231.8 2089.5L234.8 2089.5L237.8 2089.4L240.8 2089.3L243.8 2089.2L246.8 2089.1L249.8 2088.9L252.8 2088.8L255.8 2088.7L258.8 2088.5L261.8 2088.4L264.8 2088.2L267.8 2088.0L270.8 2087.8L273.8 2087.4L276.8 2087.1L279.8 2086.6L282.8 2086.1L285.8 2085.5L288.8 2084.8L291.8 2084.1L294.8 2083.4L297.8 2082.7L300.8 2082.0L303.8 2081.4L306.8 2080.7L309.8 2080.1L312.8 2079.4L315.8 2078.8L318.8 2078.2L321.8 2077.5L324.8 2076.9L327.8 2076.3L330.8 2075.8L333.8 2075.3L336.8 2074.9L339.8 2074.6L342.8 2074.5L345.8 2074.4L348.8 2074.5L351.8 2074.7L354.8 2075.0L357.8 2075.5L360.8 2076.0L363.8 2076.6L366.8 2077.2L369.8 2077.9L372.8 2078.6L375.8 2079.4L378.8 2080.2L381.8 2081.1L384.8 2082.0L387.8 2082.8L390.8 2083.6L393.8 2084.2L396.8 2084.6L399.8 2084.8L402.8 2084.7L405.8 2084.4L408.8 2084.0L411.8 2083.3L414.8 2082.6L417.8 2081.9L420.8 2081.1L423.8 2080.4L426.8 2079.8L429.8 2079.1L432.8 2078.6L435.8 2078.0L438.8 2077.5L441.8 2077.1L444.8 2076.7L447.8 2076.5L450.8 2076.3L453.8 2076.3L456.8 2076.3L459.8 2076.4L462.8 2076.6L465.8 2076.8L468.8 2077.0L471.8 2077.3L474.8 2077.5L477.8 2077.8L480.8 2078.1L483.8 2078.4L486.8 2078.7L489.8 2079.0L492.8 2079.3L495.8 2079.6L498.8 2079.9L501.8 2080.3L504.8 2080.6L507.8 2080.9L510.8 2081.2L513.8 2081.5L516.8 2081.8L519.8 2082.1L522.8 2082.3L525.8 2082.5L528.8 2082.7L531.8 2082.9L534.8 2083.0L537.8 2083.2L540.8 2083.3L543.8 2083.4L546.8 2083.6L549.8 2083.7L552.8 2083.8L555.8 2083.9L558.8 2084.0L561.8 2084.1L564.8 2084.2L567.8 2084.3L570.8 2084.4L573.8 2084.5L576.8 2084.7L579.8 2084.8L582.8 2084.9L585.8 2085.1L588.8 2085.2L591.8 2085.4L594.8 2085.5L597.8 2085.7L600.8 2085.8L603.8 2086.0L606.8 2086.2L609.8 2086.4L612.8 2086.5L615.8 2086.7L618.8 2086.9L621.8 2087.1L624.8 2087.3L627.8 2087.5L630.8 2087.7L633.8 2087.9L636.8 2088.1L639.8 2088.3L642.8 2088.5L645.8 2088.7L648.8 2088.9L651.8 2089.1L654.8 2089.4L657.8 2089.6L660.8 2089.8L663.8 2090.0L666.8 2090.3L669.8 2090.5L672.8 2090.8L675.8 2091.0L678.8 2091.2L681.8 2091.5L684.8 2091.7L687.8 2092.0L690.8 2092.2L693.8 2092.5L696.8 2092.7L699.8 2093.0L702.8 2093.2L705.8 2093.5L708.8 2093.7L711.8 2094.0L714.8 2094.3L717.8 2094.5L720.8 2094.8L723.8 2095.0L726.8 2095.3L729.8 2095.6L732.8 2095.8L735.8 2096.1L738.8 2096.4L741.8 2096.6L744.8 2096.9L747.8 2097.1L750.8 2097.2" fill="none" stroke="#ff9a3e" stroke-width="2.6" stroke-linejoin="round"/>
<path d="M117.8 2083.1L120.8 2083.1L123.8 2083.2L126.8 2083.3L129.8 2083.3L132.8 2083.4L135.8 2083.5L138.8 2083.5L141.8 2083.6L144.8 2083.6L147.8 2083.7L150.8 2083.7L153.8 2083.8L156.8 2083.8L159.8 2083.8L162.8 2083.9L165.8 2083.9L168.8 2083.9L171.8 2083.9L174.8 2083.9L177.8 2084.0L180.8 2084.0L183.8 2084.0L186.8 2084.0L189.8 2084.0L192.8 2084.0L195.8 2084.0L198.8 2084.0L201.8 2084.0L204.8 2084.0L207.8 2084.0L210.8 2083.9L213.8 2083.9L216.8 2083.9L219.8 2083.8L222.8 2083.8L225.8 2083.7L228.8 2083.7L231.8 2083.6L234.8 2083.5L237.8 2083.4L240.8 2083.3L243.8 2083.2L246.8 2083.1L249.8 2083.0L252.8 2082.8L255.8 2082.6L258.8 2082.3L261.8 2081.9L264.8 2081.3L267.8 2080.6L270.8 2079.8L273.8 2078.9L276.8 2077.8L279.8 2076.7L282.8 2075.5L285.8 2074.3L288.8 2073.0L291.8 2071.7L294.8 2070.4L297.8 2069.0L300.8 2067.6L303.8 2066.2L306.8 2064.6L309.8 2063.1L312.8 2061.6L315.8 2060.1L318.8 2058.7L321.8 2057.3L324.8 2056.1L327.8 2054.9L330.8 2053.9L333.8 2052.9L336.8 2052.1L339.8 2051.4L342.8 2051.0L345.8 2050.9L348.8 2051.1L351.8 2051.5L354.8 2052.2L357.8 2053.2L360.8 2054.3L363.8 2055.6L366.8 2057.1L369.8 2058.7L372.8 2060.6L375.8 2062.6L378.8 2064.8L381.8 2067.1L384.8 2069.4L387.8 2071.5L390.8 2073.3L393.8 2074.7L396.8 2075.6L399.8 2075.8L402.8 2075.5L405.8 2074.6L408.8 2073.2L411.8 2071.5L414.8 2069.7L417.8 2067.8L420.8 2066.1L423.8 2064.5L426.8 2063.0L429.8 2061.7L432.8 2060.4L435.8 2059.3L438.8 2058.3L441.8 2057.5L444.8 2056.9L447.8 2056.5L450.8 2056.4L453.8 2056.4L456.8 2056.6L459.8 2056.9L462.8 2057.3L465.8 2057.8L468.8 2058.4L471.8 2059.1L474.8 2059.8L477.8 2060.5L480.8 2061.4L483.8 2062.3L486.8 2063.2L489.8 2064.2L492.8 2065.2L495.8 2066.2L498.8 2067.2L501.8 2068.1L504.8 2069.1L507.8 2069.9L510.8 2070.8L513.8 2071.6L516.8 2072.2L519.8 2072.8L522.8 2073.2L525.8 2073.6L528.8 2073.8L531.8 2073.9L534.8 2074.0L537.8 2074.0L540.8 2074.0L543.8 2074.0L546.8 2074.0L549.8 2074.0L552.8 2074.1L555.8 2074.2L558.8 2074.3L561.8 2074.6L564.8 2074.9L567.8 2075.3L570.8 2075.7L573.8 2076.2L576.8 2076.7L579.8 2077.1L582.8 2077.6L585.8 2078.0L588.8 2078.3L591.8 2078.6L594.8 2078.9L597.8 2079.2L600.8 2079.4L603.8 2079.7L606.8 2079.9L609.8 2080.1L612.8 2080.4L615.8 2080.6L618.8 2080.8L621.8 2081.0L624.8 2081.3L627.8 2081.5L630.8 2081.7L633.8 2082.0L636.8 2082.2L639.8 2082.4L642.8 2082.7L645.8 2083.0L648.8 2083.2L651.8 2083.5L654.8 2083.8L657.8 2084.1L660.8 2084.4L663.8 2084.7L666.8 2085.0L669.8 2085.3L672.8 2085.6L675.8 2085.9L678.8 2086.2L681.8 2086.6L684.8 2086.9L687.8 2087.2L690.8 2087.5L693.8 2087.8L696.8 2088.1L699.8 2088.4L702.8 2088.7L705.8 2089.0L708.8 2089.3L711.8 2089.6L714.8 2089.9L717.8 2090.2L720.8 2090.5L723.8 2090.8L726.8 2091.1L729.8 2091.4L732.8 2091.7L735.8 2092.0L738.8 2092.3L741.8 2092.6L744.8 2092.8L747.8 2093.0L750.8 2093.2" fill="none" stroke="#d88a3b" stroke-width="3" stroke-linejoin="round"/>
<path d="M117.8 2075.0L120.8 2075.0L123.8 2075.0L126.8 2075.0L129.8 2075.0L132.8 2075.0L135.8 2075.0L138.8 2075.0L141.8 2075.0L144.8 2075.0L147.8 2075.0L150.8 2075.0L153.8 2075.0L156.8 2075.0L159.8 2075.0L162.8 2075.0L165.8 2075.0L168.8 2075.0L171.8 2075.0L174.8 2075.0L177.8 2075.0L180.8 2075.0L183.8 2075.0L186.8 2075.0L189.8 2075.0L192.8 2075.0L195.8 2075.0L198.8 2075.0L201.8 2075.0L204.8 2074.9L207.8 2074.7L210.8 2074.4L213.8 2074.1L216.8 2073.7L219.8 2073.2L222.8 2072.7L225.8 2072.1L228.8 2071.5L231.8 2070.8L234.8 2070.1L237.8 2069.3L240.8 2068.3L243.8 2067.0L246.8 2065.4L249.8 2063.5L252.8 2061.4L255.8 2059.1L258.8 2056.7L261.8 2054.0L264.8 2051.0L267.8 2047.7L270.8 2044.2L273.8 2040.5L276.8 2036.7L279.8 2032.6L282.8 2028.3L285.8 2023.8L288.8 2019.1L291.8 2014.3L294.8 2009.6L297.8 2004.8L300.8 2000.0L303.8 1995.1L306.8 1990.2L309.8 1985.4L312.8 1980.8L315.8 1976.5L318.8 1972.3L321.8 1968.2L324.8 1964.3L327.8 1960.7L330.8 1957.4L333.8 1954.6L336.8 1952.1L339.8 1949.8L342.8 1948.2L345.8 1947.4L348.8 1947.6L351.8 1948.7L354.8 1950.3L357.8 1952.4L360.8 1955.5L363.8 1959.8L366.8 1965.0L369.8 1971.0L372.8 1978.0L375.8 1986.0L378.8 1994.4L381.8 2003.0L384.8 2011.8L387.8 2020.6L390.8 2028.8L393.8 2036.1L396.8 2042.2L399.8 2045.0L402.8 2043.3L405.8 2038.3L408.8 2031.8L411.8 2024.3L414.8 2016.0L417.8 2007.9L420.8 2000.8L423.8 1994.7L426.8 1989.3L429.8 1984.6L432.8 1980.9L435.8 1978.0L438.8 1975.8L441.8 1973.8L444.8 1972.4L447.8 1971.5L450.8 1971.3L453.8 1971.7L456.8 1972.7L459.8 1974.0L462.8 1975.6L465.8 1977.3L468.8 1979.4L471.8 1981.8L474.8 1984.6L477.8 1987.6L480.8 1990.9L483.8 1994.2L486.8 1997.6L489.8 2000.9L492.8 2004.4L495.8 2008.0L498.8 2011.7L501.8 2015.3L504.8 2018.9L507.8 2022.2L510.8 2025.4L513.8 2028.6L516.8 2031.7L519.8 2034.5L522.8 2037.1L525.8 2039.2L528.8 2040.8L531.8 2042.1L534.8 2043.1L537.8 2043.9L540.8 2044.4L543.8 2044.8L546.8 2045.2L549.8 2045.6L552.8 2046.2L555.8 2047.4L558.8 2049.1L561.8 2051.1L564.8 2053.0L567.8 2054.8L570.8 2056.5L573.8 2058.2L576.8 2059.8L579.8 2061.3L582.8 2062.5L585.8 2063.6L588.8 2064.4L591.8 2065.2L594.8 2065.9L597.8 2066.5L600.8 2067.1L603.8 2067.6L606.8 2068.1L609.8 2068.6L612.8 2069.0L615.8 2069.4L618.8 2069.8L621.8 2070.2L624.8 2070.5L627.8 2070.8L630.8 2071.1L633.8 2071.4L636.8 2071.6L639.8 2071.9L642.8 2072.2L645.8 2072.4L648.8 2072.7L651.8 2073.0L654.8 2073.3L657.8 2073.6L660.8 2073.9L663.8 2074.2L666.8 2074.6L669.8 2074.9L672.8 2075.3L675.8 2075.6L678.8 2076.0L681.8 2076.4L684.8 2076.8L687.8 2077.2L690.8 2077.5L693.8 2077.9L696.8 2078.3L699.8 2078.7L702.8 2079.0L705.8 2079.4L708.8 2079.8L711.8 2080.2L714.8 2080.5L717.8 2080.9L720.8 2081.3L723.8 2081.6L726.8 2082.0L729.8 2082.4L732.8 2082.8L735.8 2083.1L738.8 2083.5L741.8 2083.9L744.8 2084.2L747.8 2084.6L750.8 2084.9" fill="none" stroke="#b07a42" stroke-width="3" stroke-linejoin="round"/>
<path d="M117.8 2067.5L118.0 2067.5L119.8 2067.5L121.8 2067.5L123.8 2067.5L125.8 2067.4L127.8 2067.4L129.8 2067.4L131.8 2067.4L133.8 2067.4L135.8 2067.4L137.8 2067.4L139.8 2067.4L141.8 2067.3L143.8 2067.3L145.8 2067.3L147.8 2067.3L149.8 2067.3L151.8 2067.3L153.8 2067.3L155.8 2067.3L157.8 2067.3L159.8 2067.3L160.0 2067.3L161.8 2067.3L163.8 2067.3L165.8 2067.3L167.8 2067.3L169.8 2067.3L171.8 2067.3L173.8 2067.3L175.8 2067.3L177.8 2067.3L179.8 2067.3L181.8 2067.3L183.8 2067.3L185.8 2067.3L187.8 2067.3L189.8 2067.3L191.8 2067.3L193.8 2067.3L195.8 2067.3L197.8 2067.3L199.8 2067.3L200.0 2067.3L201.8 2067.3L203.8 2067.2L205.8 2067.0L207.8 2066.7L209.8 2066.4L211.8 2066.0L213.8 2065.6L215.8 2065.2L217.8 2064.7L219.2 2064.4L219.8 2064.2L221.8 2063.6L223.8 2062.7L225.8 2061.6L227.8 2060.4L229.8 2059.0L231.8 2057.6L233.8 2056.0L235.8 2054.3L237.8 2052.5L238.5 2051.9L239.8 2050.7L241.8 2048.6L243.8 2046.2L245.8 2043.6L247.8 2040.7L249.8 2037.6L251.8 2034.3L253.8 2030.8L255.8 2026.9L257.8 2022.5L259.8 2017.6L261.8 2012.4L263.8 2006.7L265.8 2000.8L267.3 1996.2L267.8 1994.6L269.8 1987.9L271.8 1980.5L273.8 1972.6L275.8 1964.3L277.8 1955.8L279.8 1947.1L281.8 1938.5L282.7 1934.6L283.8 1929.8L285.8 1920.9L287.8 1911.7L289.8 1902.3L291.8 1892.9L293.8 1883.7L295.8 1874.8L296.2 1873.0L297.8 1866.0L299.8 1857.3L301.8 1848.7L303.8 1840.3L305.8 1832.3L307.7 1825.0L307.8 1824.6L309.8 1817.2L311.8 1810.0L313.8 1803.0L315.8 1796.4L317.8 1790.3L319.2 1786.5L319.8 1784.9L321.8 1779.9L323.8 1775.1L325.8 1770.7L327.8 1766.7L329.8 1763.1L330.8 1761.5L331.8 1760.0L333.8 1757.1L335.8 1754.5L337.8 1752.2L339.8 1750.4L340.4 1750.0L341.8 1749.0L343.8 1747.8L345.8 1747.1L346.2 1747.1L347.8 1747.3L349.8 1748.2L351.8 1749.5L353.8 1751.0L355.8 1753.0L357.8 1755.9L359.8 1759.5L361.8 1763.5L363.5 1767.3L363.8 1768.0L365.8 1773.3L367.8 1779.7L369.8 1787.0L371.8 1795.0L373.0 1800.0L373.8 1803.5L375.8 1813.1L377.8 1823.8L379.8 1835.5L381.8 1848.0L382.7 1853.8L383.8 1861.3L385.8 1876.4L387.8 1892.8L389.8 1909.8L391.8 1926.7L392.3 1930.8L393.8 1943.6L395.8 1961.1L397.8 1977.3L398.0 1978.8L399.8 1992.1L400.0 1992.3L401.8 1988.2L403.8 1978.8L405.8 1966.6L407.8 1950.6L409.8 1933.8L411.5 1921.0L411.8 1919.0L413.8 1905.5L415.8 1892.4L417.8 1880.2L419.8 1869.2L421.0 1863.5L421.8 1860.0L423.8 1851.7L425.8 1844.2L427.8 1837.5L429.8 1831.5L430.8 1828.8L431.8 1826.2L433.8 1821.1L435.8 1816.5L437.8 1812.5L439.8 1809.4L440.4 1808.7L441.8 1807.1L443.8 1805.0L445.8 1803.3L447.8 1802.2L449.0 1802.0L449.8 1802.0L451.8 1802.5L453.8 1803.5L455.8 1804.8L457.8 1806.3L459.6 1807.7L459.8 1807.9L461.8 1810.0L463.8 1812.9L465.8 1816.3L467.8 1820.2L469.8 1824.3L471.8 1828.4L473.0 1830.8L473.8 1832.4L475.8 1836.7L477.8 1841.2L479.8 1845.9L481.8 1850.8L483.8 1855.8L485.8 1860.8L487.8 1865.8L489.2 1869.2L489.8 1870.7L491.8 1875.6L493.8 1880.5L495.8 1885.5L497.8 1890.5L499.8 1895.6L501.8 1900.6L503.8 1905.6L505.8 1910.6L507.8 1915.6L508.5 1917.3L509.8 1920.5L511.8 1925.6L513.8 1930.7L515.8 1935.7L517.8 1940.6L519.8 1945.2L521.8 1949.6L522.0 1950.0L523.8 1953.8L525.8 1958.1L527.8 1962.0L529.8 1965.3L531.5 1967.3L531.8 1967.6L533.8 1969.2L535.8 1970.5L537.8 1971.5L539.2 1972.0L539.8 1972.2L541.8 1972.7L543.8 1973.1L545.8 1973.4L547.8 1973.7L549.8 1974.1L551.8 1974.7L552.7 1975.0L553.8 1975.6L555.8 1977.1L557.8 1979.3L559.8 1981.9L560.4 1982.7L561.8 1985.1L563.8 1989.5L565.8 1994.8L567.8 2000.3L569.8 2005.3L570.0 2005.8L571.8 2010.0L573.8 2014.8L575.8 2019.5L577.8 2024.0L579.8 2027.9L581.5 2030.8L581.8 2031.3L583.8 2034.1L585.8 2036.8L587.8 2039.1L589.8 2041.3L591.8 2043.2L593.0 2044.2L593.8 2044.8L595.8 2046.4L597.8 2047.8L599.8 2049.2L601.8 2050.4L603.8 2051.5L605.8 2052.6L607.8 2053.5L608.5 2053.8L609.8 2054.3L611.8 2055.1L613.8 2055.9L615.8 2056.6L617.8 2057.3L619.8 2058.0L621.8 2058.6L623.8 2059.2L625.8 2059.8L627.8 2060.3L629.8 2060.7L631.8 2061.2L633.5 2061.5L633.8 2061.6L635.8 2061.9L637.8 2062.2L639.8 2062.6L641.8 2062.8L643.8 2063.1L645.8 2063.4L647.8 2063.6L649.8 2063.9L651.8 2064.1L653.8 2064.3L655.8 2064.6L657.8 2064.8L659.8 2065.1L661.8 2065.3L662.3 2065.4L663.8 2065.6L665.8 2065.9L667.8 2066.2L669.8 2066.5L671.8 2066.7L673.8 2067.0L675.8 2067.3L677.8 2067.6L679.8 2067.9L681.8 2068.2L683.8 2068.5L685.8 2068.8L687.8 2069.1L689.8 2069.4L691.8 2069.6L693.8 2069.9L695.8 2070.2L697.8 2070.5L699.8 2070.8L700.8 2071.0L701.8 2071.2L703.8 2071.5L705.8 2071.8L707.8 2072.1L709.8 2072.4L711.8 2072.7L713.8 2073.0L715.8 2073.3L717.8 2073.6L719.8 2073.9L721.8 2074.3L723.8 2074.6L725.8 2074.9L727.8 2075.2L729.8 2075.5L731.8 2075.8L733.8 2076.2L735.8 2076.5L737.8 2076.8L739.8 2077.1L741.8 2077.5L743.8 2077.8L745.8 2078.1L747.8 2078.5L749.8 2078.8L751.0 2079.0" fill="none" stroke="#8c6239" stroke-width="3" stroke-linejoin="round"/>
<path d="M340.1 1716.7H352.3V2090.4H358.70000000000005L346.20000000000005 2114.6L333.70000000000005 2090.4H340.1Z" fill="#5270b0" fill-opacity="0.74"/>
<rect x="117.8" y="1637.2" width="633.8000000000001" height="507.39999999999986" fill="none" stroke="#000" stroke-width="3.1"/>
<path d="M163.1 2144.6v-5.5M208.3 2144.6v-10M253.6 2144.6v-5.5M298.9 2144.6v-10M344.2 2144.6v-5.5M389.4 2144.6v-10M434.7 2144.6v-5.5M480.0 2144.6v-10M525.2 2144.6v-5.5M570.5 2144.6v-10M615.8 2144.6v-5.5M661.1 2144.6v-10M706.3 2144.6v-5.5" stroke="#000" stroke-width="2.6" fill="none"/>
<text x="116.2" y="2177.4" font-size="25" font-weight="bold" fill="#000" text-anchor="middle" textLength="58" lengthAdjust="spacing">2300</text>
<text x="206.7" y="2177.4" font-size="25" font-weight="bold" fill="#000" text-anchor="middle" textLength="58" lengthAdjust="spacing">2250</text>
<text x="297.3" y="2177.4" font-size="25" font-weight="bold" fill="#000" text-anchor="middle" textLength="58" lengthAdjust="spacing">2200</text>
<text x="387.8" y="2177.4" font-size="25" font-weight="bold" fill="#000" text-anchor="middle" textLength="58" lengthAdjust="spacing">2150</text>
<text x="478.4" y="2177.4" font-size="25" font-weight="bold" fill="#000" text-anchor="middle" textLength="58" lengthAdjust="spacing">2100</text>
<text x="568.9" y="2177.4" font-size="25" font-weight="bold" fill="#000" text-anchor="middle" textLength="58" lengthAdjust="spacing">2050</text>
<text x="659.5" y="2177.4" font-size="25" font-weight="bold" fill="#000" text-anchor="middle" textLength="58" lengthAdjust="spacing">2000</text>
<text x="750.0" y="2177.4" font-size="25" font-weight="bold" fill="#000" text-anchor="middle" textLength="58" lengthAdjust="spacing">1950</text>
<text x="434.3" y="2226" font-size="27.5" font-weight="bold" text-anchor="middle" textLength="249.5" lengthAdjust="spacingAndGlyphs">Wavenumber (cm<tspan font-size="17.1" dy="-9.9">-1</tspan><tspan dy="9.9">)</tspan></text>
<text transform="translate(76.3,1877.9) rotate(-90)" font-size="26.5" font-weight="bold" text-anchor="middle" textLength="221.5" lengthAdjust="spacing">Adsorbance (a.u.)</text>
<path d="M131.2 1662.3H194.6" stroke="#8c6239" stroke-width="4" fill="none"/>
<text x="200.3" y="1671.1" font-size="25" font-weight="bold" fill="#000" text-anchor="start" textLength="68" lengthAdjust="spacing">0 min</text>
<path d="M131.2 1695.4H194.6" stroke="#b07a42" stroke-width="4" fill="none"/>
<text x="200.3" y="1704.2" font-size="25" font-weight="bold" fill="#000" text-anchor="start" textLength="82" lengthAdjust="spacing">10 min</text>
<path d="M131.2 1728.6H194.6" stroke="#d88a3b" stroke-width="4" fill="none"/>
<text x="200.3" y="1737.4" font-size="25" font-weight="bold" fill="#000" text-anchor="start" textLength="82" lengthAdjust="spacing">20 min</text>
<path d="M131.2 1761.8H194.6" stroke="#ff9a3e" stroke-width="4" fill="none"/>
<text x="200.3" y="1770.6" font-size="25" font-weight="bold" fill="#000" text-anchor="start" textLength="82" lengthAdjust="spacing">30 min</text>
<path d="M131.2 1795.1H194.6" stroke="#ffbb5e" stroke-width="3.6" fill="none"/>
<text x="200.3" y="1803.9" font-size="25" font-weight="bold" fill="#000" text-anchor="start" textLength="82" lengthAdjust="spacing">40 min</text>
<path d="M131.2 1828.4H194.6" stroke="#ffde85" stroke-width="3.6" fill="none"/>
<text x="200.3" y="1837.2" font-size="25" font-weight="bold" fill="#000" text-anchor="start" textLength="82" lengthAdjust="spacing">50 min</text>
<path d="M131.2 1861.4H194.6" stroke="#fffc9e" stroke-width="3.6" fill="none"/>
<text x="200.3" y="1870.2" font-size="25" font-weight="bold" fill="#000" text-anchor="start" textLength="82" lengthAdjust="spacing">60 min</text>
<text x="19.6" y="1621" font-size="42" font-weight="bold" fill="#000" text-anchor="start" >(e)</text>
<text x="310.5" y="1691.4" font-size="32" font-weight="bold" fill="#000" text-anchor="start" letter-spacing="0.6">Time</text>
<text x="141.5" y="2054" font-size="29" font-weight="bold" fill="#000" text-anchor="start" textLength="61" lengthAdjust="spacing">ACT</text>
<text x="418.6" y="1771" font-size="25" font-weight="bold" fill="#000" text-anchor="start" textLength="58" lengthAdjust="spacing">2117</text>
<text x="523.8" y="1944.2" font-size="25" font-weight="bold" fill="#000" text-anchor="start" textLength="58" lengthAdjust="spacing">2106</text>
<text x="657.6" y="1699" font-size="25" font-weight="bold" fill="#000" text-anchor="start" textLength="49.5" lengthAdjust="spacing">0.01</text>
<path d="M448.7 1778V1833" stroke="#000" stroke-width="3.7" stroke-dasharray="7.5 4.8" fill="none"/>
<path d="M552.7 1950V2006" stroke="#000" stroke-width="3.7" stroke-dasharray="7.5 4.8" fill="none"/>
<rect x="719.8" y="1661.6" width="6.100000000000023" height="51.80000000000018" fill="#000"/>
</g>
<g>
<path d="M905.3 2075.7L908.3 2075.9L911.3 2076.1L914.3 2076.4L917.3 2076.8L920.3 2077.1L923.3 2077.4L926.3 2077.8L929.3 2078.1L932.3 2078.4L935.3 2078.7L938.3 2079.0L941.3 2079.3L944.3 2079.5L947.3 2079.8L950.3 2080.0L953.3 2080.2L956.3 2080.4L959.3 2080.5L962.3 2080.7L965.3 2080.8L968.3 2080.9L971.3 2081.0L974.3 2081.1L977.3 2081.1L980.3 2081.2L983.3 2081.3L986.3 2081.3L989.3 2081.4L992.3 2081.4L995.3 2081.5L998.3 2081.5L1001.3 2081.5L1004.3 2081.6L1007.3 2081.6L1010.3 2081.7L1013.3 2081.7L1016.3 2081.7L1019.3 2081.8L1022.3 2081.8L1025.3 2081.8L1028.3 2081.9L1031.3 2081.9L1034.3 2081.9L1037.3 2081.9L1040.3 2081.9L1043.3 2082.0L1046.3 2082.0L1049.3 2082.0L1052.3 2082.0L1055.3 2082.0L1058.3 2082.0L1061.3 2081.9L1064.3 2081.9L1067.3 2081.9L1070.3 2081.8L1073.3 2081.7L1076.3 2081.6L1079.3 2081.4L1082.3 2081.3L1085.3 2081.1L1088.3 2081.0L1091.3 2080.8L1094.3 2080.6L1097.3 2080.5L1100.3 2080.3L1103.3 2080.1L1106.3 2079.9L1109.3 2079.8L1112.3 2079.6L1115.3 2079.5L1118.3 2079.4L1121.3 2079.3L1124.3 2079.2L1127.3 2079.1L1130.3 2079.1L1133.3 2079.1L1136.3 2079.1L1139.3 2079.1L1142.3 2079.2L1145.3 2079.2L1148.3 2079.3L1151.3 2079.4L1154.3 2079.5L1157.3 2079.6L1160.3 2079.8L1163.3 2079.9L1166.3 2080.0L1169.3 2080.1L1172.3 2080.2L1175.3 2080.3L1178.3 2080.3L1181.3 2080.4L1184.3 2080.4L1187.3 2080.4L1190.3 2080.3L1193.3 2080.1L1196.3 2079.9L1199.3 2079.7L1202.3 2079.4L1205.3 2079.0L1208.3 2078.6L1211.3 2078.2L1214.3 2077.7L1217.3 2077.3L1220.3 2076.8L1223.3 2076.3L1226.3 2075.8L1229.3 2075.4L1232.3 2074.9L1235.3 2074.5L1238.3 2074.2L1241.3 2073.9L1244.3 2073.6L1247.3 2073.4L1250.3 2073.3L1253.3 2073.2L1256.3 2073.3L1259.3 2073.3L1262.3 2073.5L1265.3 2073.7L1268.3 2074.0L1271.3 2074.3L1274.3 2074.7L1277.3 2075.0L1280.3 2075.4L1283.3 2075.7L1286.3 2076.0L1289.3 2076.3L1292.3 2076.5L1295.3 2076.7L1298.3 2076.8L1301.3 2076.9L1304.3 2076.9L1307.3 2076.9L1310.3 2076.9L1313.3 2076.9L1316.3 2076.9L1319.3 2076.8L1322.3 2076.8L1325.3 2076.7L1328.3 2076.7L1331.3 2076.6L1334.3 2076.6L1337.3 2076.5L1340.3 2076.4L1343.3 2076.3L1346.3 2076.3L1349.3 2076.2L1352.3 2076.1L1355.3 2076.0L1358.3 2076.0L1361.3 2075.9L1364.3 2075.8L1367.3 2075.7L1370.3 2075.7L1373.3 2075.6L1376.3 2075.5L1379.3 2075.4L1382.3 2075.4L1385.3 2075.3L1388.3 2075.3L1391.3 2075.2L1394.3 2075.2L1397.3 2075.1L1400.3 2075.1L1403.3 2075.1L1406.3 2075.0L1409.3 2075.0L1412.3 2075.0L1415.3 2075.0L1418.3 2075.0L1421.3 2075.1L1424.3 2075.1L1427.3 2075.2L1430.3 2075.2L1433.3 2075.3L1436.3 2075.4L1439.3 2075.5L1442.3 2075.6L1445.3 2075.7L1448.3 2075.8L1451.3 2075.9L1454.3 2076.1L1457.3 2076.2L1460.3 2076.4L1463.3 2076.5L1466.3 2076.7L1469.3 2076.9L1472.3 2077.1L1475.3 2077.3L1478.3 2077.5L1481.3 2077.7L1484.3 2077.9L1487.3 2078.2L1490.3 2078.4L1493.3 2078.7L1496.3 2078.9L1499.3 2079.2L1502.3 2079.4L1505.3 2079.7L1508.3 2080.0L1511.3 2080.3L1514.3 2080.5L1517.3 2080.8L1520.3 2081.1L1523.3 2081.4L1526.3 2081.7L1529.3 2082.0L1532.3 2082.3L1535.3 2082.5L1538.3 2082.7" fill="none" stroke="#fffc9e" stroke-width="2.6" stroke-linejoin="round"/>
<path d="M905.3 2072.3L908.3 2072.5L911.3 2072.8L914.3 2073.1L917.3 2073.4L920.3 2073.7L923.3 2074.0L926.3 2074.3L929.3 2074.6L932.3 2074.9L935.3 2075.2L938.3 2075.4L941.3 2075.7L944.3 2075.9L947.3 2076.1L950.3 2076.3L953.3 2076.5L956.3 2076.6L959.3 2076.7L962.3 2076.8L965.3 2076.9L968.3 2076.9L971.3 2077.0L974.3 2077.0L977.3 2077.0L980.3 2077.0L983.3 2077.0L986.3 2077.0L989.3 2077.0L992.3 2077.0L995.3 2077.0L998.3 2077.0L1001.3 2077.0L1004.3 2077.0L1007.3 2077.0L1010.3 2077.0L1013.3 2077.0L1016.3 2077.0L1019.3 2077.0L1022.3 2077.0L1025.3 2077.0L1028.3 2077.0L1031.3 2077.0L1034.3 2077.0L1037.3 2077.0L1040.3 2077.0L1043.3 2077.0L1046.3 2077.0L1049.3 2077.0L1052.3 2077.0L1055.3 2077.0L1058.3 2077.0L1061.3 2076.9L1064.3 2076.9L1067.3 2076.8L1070.3 2076.7L1073.3 2076.6L1076.3 2076.4L1079.3 2076.3L1082.3 2076.1L1085.3 2075.9L1088.3 2075.6L1091.3 2075.4L1094.3 2075.2L1097.3 2074.9L1100.3 2074.7L1103.3 2074.5L1106.3 2074.2L1109.3 2074.0L1112.3 2073.8L1115.3 2073.6L1118.3 2073.5L1121.3 2073.3L1124.3 2073.2L1127.3 2073.2L1130.3 2073.1L1133.3 2073.1L1136.3 2073.1L1139.3 2073.2L1142.3 2073.2L1145.3 2073.3L1148.3 2073.4L1151.3 2073.6L1154.3 2073.7L1157.3 2073.9L1160.3 2074.0L1163.3 2074.2L1166.3 2074.3L1169.3 2074.5L1172.3 2074.6L1175.3 2074.7L1178.3 2074.8L1181.3 2074.8L1184.3 2074.9L1187.3 2074.9L1190.3 2074.8L1193.3 2074.7L1196.3 2074.5L1199.3 2074.2L1202.3 2073.9L1205.3 2073.6L1208.3 2073.2L1211.3 2072.8L1214.3 2072.4L1217.3 2072.0L1220.3 2071.5L1223.3 2071.1L1226.3 2070.6L1229.3 2070.2L1232.3 2069.8L1235.3 2069.4L1238.3 2069.1L1241.3 2068.8L1244.3 2068.6L1247.3 2068.4L1250.3 2068.2L1253.3 2068.2L1256.3 2068.1L1259.3 2068.1L1262.3 2068.2L1265.3 2068.3L1268.3 2068.4L1271.3 2068.5L1274.3 2068.6L1277.3 2068.8L1280.3 2068.9L1283.3 2069.0L1286.3 2069.1L1289.3 2069.2L1292.3 2069.3L1295.3 2069.4L1298.3 2069.4L1301.3 2069.5L1304.3 2069.5L1307.3 2069.5L1310.3 2069.5L1313.3 2069.5L1316.3 2069.5L1319.3 2069.5L1322.3 2069.4L1325.3 2069.4L1328.3 2069.4L1331.3 2069.4L1334.3 2069.4L1337.3 2069.4L1340.3 2069.4L1343.3 2069.3L1346.3 2069.3L1349.3 2069.3L1352.3 2069.3L1355.3 2069.3L1358.3 2069.2L1361.3 2069.2L1364.3 2069.2L1367.3 2069.2L1370.3 2069.2L1373.3 2069.1L1376.3 2069.1L1379.3 2069.1L1382.3 2069.1L1385.3 2069.1L1388.3 2069.1L1391.3 2069.1L1394.3 2069.0L1397.3 2069.0L1400.3 2069.0L1403.3 2069.0L1406.3 2069.0L1409.3 2069.0L1412.3 2069.0L1415.3 2069.0L1418.3 2069.1L1421.3 2069.1L1424.3 2069.1L1427.3 2069.2L1430.3 2069.3L1433.3 2069.3L1436.3 2069.4L1439.3 2069.5L1442.3 2069.7L1445.3 2069.8L1448.3 2069.9L1451.3 2070.1L1454.3 2070.3L1457.3 2070.4L1460.3 2070.6L1463.3 2070.8L1466.3 2071.0L1469.3 2071.2L1472.3 2071.5L1475.3 2071.7L1478.3 2071.9L1481.3 2072.2L1484.3 2072.5L1487.3 2072.7L1490.3 2073.0L1493.3 2073.3L1496.3 2073.5L1499.3 2073.8L1502.3 2074.1L1505.3 2074.4L1508.3 2074.7L1511.3 2075.0L1514.3 2075.4L1517.3 2075.7L1520.3 2076.0L1523.3 2076.3L1526.3 2076.6L1529.3 2076.9L1532.3 2077.2L1535.3 2077.5L1538.3 2077.7" fill="none" stroke="#ffde85" stroke-width="2.6" stroke-linejoin="round"/>
<path d="M905.3 2068.3L908.3 2068.5L911.3 2068.8L914.3 2069.1L917.3 2069.4L920.3 2069.7L923.3 2070.0L926.3 2070.3L929.3 2070.6L932.3 2070.9L935.3 2071.2L938.3 2071.4L941.3 2071.7L944.3 2071.9L947.3 2072.1L950.3 2072.3L953.3 2072.5L956.3 2072.6L959.3 2072.7L962.3 2072.8L965.3 2072.9L968.3 2072.9L971.3 2073.0L974.3 2073.0L977.3 2073.0L980.3 2073.0L983.3 2073.0L986.3 2073.0L989.3 2073.0L992.3 2073.0L995.3 2073.0L998.3 2072.9L1001.3 2072.9L1004.3 2072.9L1007.3 2072.9L1010.3 2072.9L1013.3 2072.9L1016.3 2072.9L1019.3 2072.8L1022.3 2072.8L1025.3 2072.8L1028.3 2072.8L1031.3 2072.8L1034.3 2072.7L1037.3 2072.7L1040.3 2072.7L1043.3 2072.7L1046.3 2072.6L1049.3 2072.6L1052.3 2072.6L1055.3 2072.5L1058.3 2072.5L1061.3 2072.4L1064.3 2072.3L1067.3 2072.2L1070.3 2072.0L1073.3 2071.8L1076.3 2071.6L1079.3 2071.4L1082.3 2071.1L1085.3 2070.8L1088.3 2070.5L1091.3 2070.2L1094.3 2069.9L1097.3 2069.6L1100.3 2069.3L1103.3 2068.9L1106.3 2068.6L1109.3 2068.4L1112.3 2068.1L1115.3 2067.9L1118.3 2067.6L1121.3 2067.5L1124.3 2067.3L1127.3 2067.2L1130.3 2067.2L1133.3 2067.1L1136.3 2067.2L1139.3 2067.3L1142.3 2067.4L1145.3 2067.6L1148.3 2067.8L1151.3 2068.0L1154.3 2068.2L1157.3 2068.5L1160.3 2068.8L1163.3 2069.0L1166.3 2069.3L1169.3 2069.6L1172.3 2069.8L1175.3 2070.0L1178.3 2070.1L1181.3 2070.2L1184.3 2070.3L1187.3 2070.3L1190.3 2070.2L1193.3 2070.1L1196.3 2069.9L1199.3 2069.6L1202.3 2069.3L1205.3 2068.9L1208.3 2068.5L1211.3 2068.0L1214.3 2067.5L1217.3 2067.0L1220.3 2066.5L1223.3 2066.0L1226.3 2065.5L1229.3 2065.0L1232.3 2064.6L1235.3 2064.1L1238.3 2063.8L1241.3 2063.4L1244.3 2063.1L1247.3 2062.9L1250.3 2062.8L1253.3 2062.7L1256.3 2062.8L1259.3 2062.9L1262.3 2063.0L1265.3 2063.3L1268.3 2063.5L1271.3 2063.8L1274.3 2064.1L1277.3 2064.4L1280.3 2064.7L1283.3 2064.9L1286.3 2065.1L1289.3 2065.3L1292.3 2065.4L1295.3 2065.4L1298.3 2065.5L1301.3 2065.5L1304.3 2065.6L1307.3 2065.6L1310.3 2065.6L1313.3 2065.7L1316.3 2065.7L1319.3 2065.7L1322.3 2065.7L1325.3 2065.8L1328.3 2065.8L1331.3 2065.8L1334.3 2065.8L1337.3 2065.8L1340.3 2065.8L1343.3 2065.9L1346.3 2065.9L1349.3 2065.9L1352.3 2065.9L1355.3 2065.9L1358.3 2065.9L1361.3 2065.9L1364.3 2065.9L1367.3 2065.9L1370.3 2066.0L1373.3 2066.0L1376.3 2066.0L1379.3 2066.0L1382.3 2066.0L1385.3 2066.0L1388.3 2066.1L1391.3 2066.1L1394.3 2066.1L1397.3 2066.1L1400.3 2066.2L1403.3 2066.2L1406.3 2066.2L1409.3 2066.3L1412.3 2066.3L1415.3 2066.3L1418.3 2066.4L1421.3 2066.5L1424.3 2066.5L1427.3 2066.6L1430.3 2066.7L1433.3 2066.8L1436.3 2066.9L1439.3 2067.1L1442.3 2067.2L1445.3 2067.3L1448.3 2067.5L1451.3 2067.7L1454.3 2067.8L1457.3 2068.0L1460.3 2068.2L1463.3 2068.4L1466.3 2068.6L1469.3 2068.8L1472.3 2069.0L1475.3 2069.2L1478.3 2069.5L1481.3 2069.7L1484.3 2069.9L1487.3 2070.2L1490.3 2070.4L1493.3 2070.7L1496.3 2071.0L1499.3 2071.2L1502.3 2071.5L1505.3 2071.8L1508.3 2072.0L1511.3 2072.3L1514.3 2072.6L1517.3 2072.9L1520.3 2073.2L1523.3 2073.5L1526.3 2073.8L1529.3 2074.0L1532.3 2074.3L1535.3 2074.5L1538.3 2074.7" fill="none" stroke="#ffbb5e" stroke-width="2.6" stroke-linejoin="round"/>
<path d="M905.3 2065.9L908.3 2066.0L911.3 2066.2L914.3 2066.4L917.3 2066.7L920.3 2066.9L923.3 2067.2L926.3 2067.4L929.3 2067.6L932.3 2067.8L935.3 2068.1L938.3 2068.2L941.3 2068.4L944.3 2068.6L947.3 2068.8L950.3 2068.9L953.3 2069.0L956.3 2069.1L959.3 2069.2L962.3 2069.3L965.3 2069.3L968.3 2069.4L971.3 2069.4L974.3 2069.4L977.3 2069.4L980.3 2069.4L983.3 2069.4L986.3 2069.4L989.3 2069.3L992.3 2069.3L995.3 2069.3L998.3 2069.3L1001.3 2069.3L1004.3 2069.2L1007.3 2069.2L1010.3 2069.2L1013.3 2069.1L1016.3 2069.1L1019.3 2069.0L1022.3 2069.0L1025.3 2069.0L1028.3 2068.9L1031.3 2068.9L1034.3 2068.8L1037.3 2068.7L1040.3 2068.7L1043.3 2068.6L1046.3 2068.5L1049.3 2068.4L1052.3 2068.3L1055.3 2068.2L1058.3 2068.0L1061.3 2067.7L1064.3 2067.5L1067.3 2067.2L1070.3 2066.8L1073.3 2066.5L1076.3 2066.1L1079.3 2065.7L1082.3 2065.3L1085.3 2064.9L1088.3 2064.5L1091.3 2064.1L1094.3 2063.7L1097.3 2063.3L1100.3 2063.0L1103.3 2062.6L1106.3 2062.2L1109.3 2061.8L1112.3 2061.4L1115.3 2061.1L1118.3 2060.7L1121.3 2060.4L1124.3 2060.2L1127.3 2060.0L1130.3 2059.9L1133.3 2059.8L1136.3 2059.9L1139.3 2060.0L1142.3 2060.2L1145.3 2060.4L1148.3 2060.7L1151.3 2061.0L1154.3 2061.4L1157.3 2061.8L1160.3 2062.3L1163.3 2062.8L1166.3 2063.4L1169.3 2064.0L1172.3 2064.7L1175.3 2065.3L1178.3 2065.9L1181.3 2066.3L1184.3 2066.6L1187.3 2066.6L1190.3 2066.5L1193.3 2066.2L1196.3 2065.7L1199.3 2065.0L1202.3 2064.2L1205.3 2063.4L1208.3 2062.5L1211.3 2061.6L1214.3 2060.7L1217.3 2059.8L1220.3 2059.0L1223.3 2058.3L1226.3 2057.5L1229.3 2056.8L1232.3 2056.1L1235.3 2055.4L1238.3 2054.8L1241.3 2054.3L1244.3 2053.8L1247.3 2053.6L1250.3 2053.4L1253.3 2053.5L1256.3 2053.7L1259.3 2054.1L1262.3 2054.6L1265.3 2055.2L1268.3 2055.9L1271.3 2056.6L1274.3 2057.3L1277.3 2058.0L1280.3 2058.6L1283.3 2059.1L1286.3 2059.5L1289.3 2059.8L1292.3 2060.1L1295.3 2060.4L1298.3 2060.6L1301.3 2060.8L1304.3 2060.9L1307.3 2061.1L1310.3 2061.2L1313.3 2061.3L1316.3 2061.4L1319.3 2061.6L1322.3 2061.6L1325.3 2061.7L1328.3 2061.8L1331.3 2061.9L1334.3 2062.0L1337.3 2062.0L1340.3 2062.1L1343.3 2062.2L1346.3 2062.2L1349.3 2062.3L1352.3 2062.3L1355.3 2062.4L1358.3 2062.4L1361.3 2062.5L1364.3 2062.5L1367.3 2062.6L1370.3 2062.6L1373.3 2062.6L1376.3 2062.7L1379.3 2062.7L1382.3 2062.8L1385.3 2062.8L1388.3 2062.9L1391.3 2063.0L1394.3 2063.0L1397.3 2063.1L1400.3 2063.2L1403.3 2063.2L1406.3 2063.3L1409.3 2063.4L1412.3 2063.5L1415.3 2063.6L1418.3 2063.7L1421.3 2063.8L1424.3 2063.9L1427.3 2064.0L1430.3 2064.1L1433.3 2064.3L1436.3 2064.4L1439.3 2064.5L1442.3 2064.7L1445.3 2064.9L1448.3 2065.0L1451.3 2065.2L1454.3 2065.4L1457.3 2065.5L1460.3 2065.7L1463.3 2065.9L1466.3 2066.1L1469.3 2066.3L1472.3 2066.5L1475.3 2066.7L1478.3 2066.9L1481.3 2067.1L1484.3 2067.4L1487.3 2067.6L1490.3 2067.8L1493.3 2068.1L1496.3 2068.3L1499.3 2068.5L1502.3 2068.8L1505.3 2069.0L1508.3 2069.3L1511.3 2069.5L1514.3 2069.8L1517.3 2070.1L1520.3 2070.3L1523.3 2070.6L1526.3 2070.9L1529.3 2071.1L1532.3 2071.4L1535.3 2071.6L1538.3 2071.7" fill="none" stroke="#ff9a3e" stroke-width="2.6" stroke-linejoin="round"/>
<path d="M905.3 2062.2L908.3 2062.4L911.3 2062.6L914.3 2062.9L917.3 2063.2L920.3 2063.5L923.3 2063.8L926.3 2064.1L929.3 2064.4L932.3 2064.7L935.3 2064.9L938.3 2065.2L941.3 2065.4L944.3 2065.6L947.3 2065.8L950.3 2065.9L953.3 2066.1L956.3 2066.2L959.3 2066.3L962.3 2066.4L965.3 2066.4L968.3 2066.4L971.3 2066.5L974.3 2066.5L977.3 2066.4L980.3 2066.4L983.3 2066.4L986.3 2066.3L989.3 2066.3L992.3 2066.2L995.3 2066.1L998.3 2066.1L1001.3 2066.0L1004.3 2065.9L1007.3 2065.7L1010.3 2065.6L1013.3 2065.5L1016.3 2065.4L1019.3 2065.2L1022.3 2065.1L1025.3 2064.9L1028.3 2064.7L1031.3 2064.5L1034.3 2064.3L1037.3 2064.0L1040.3 2063.7L1043.3 2063.3L1046.3 2062.8L1049.3 2062.2L1052.3 2061.5L1055.3 2060.7L1058.3 2059.9L1061.3 2059.0L1064.3 2058.1L1067.3 2057.1L1070.3 2056.1L1073.3 2055.1L1076.3 2054.1L1079.3 2053.1L1082.3 2052.0L1085.3 2050.9L1088.3 2049.9L1091.3 2048.9L1094.3 2047.9L1097.3 2047.0L1100.3 2046.2L1103.3 2045.4L1106.3 2044.7L1109.3 2044.0L1112.3 2043.3L1115.3 2042.7L1118.3 2042.2L1121.3 2041.7L1124.3 2041.3L1127.3 2041.0L1130.3 2040.9L1133.3 2040.9L1136.3 2041.0L1139.3 2041.4L1142.3 2041.9L1145.3 2042.5L1148.3 2043.2L1151.3 2044.1L1154.3 2045.2L1157.3 2046.4L1160.3 2047.7L1163.3 2049.3L1166.3 2051.1L1169.3 2053.1L1172.3 2055.0L1175.3 2056.8L1178.3 2058.5L1181.3 2059.7L1184.3 2060.5L1187.3 2060.7L1190.3 2060.4L1193.3 2059.5L1196.3 2058.2L1199.3 2056.6L1202.3 2054.7L1205.3 2052.7L1208.3 2050.8L1211.3 2049.0L1214.3 2047.3L1217.3 2045.8L1220.3 2044.5L1223.3 2043.3L1226.3 2042.1L1229.3 2041.1L1232.3 2040.1L1235.3 2039.3L1238.3 2038.5L1241.3 2037.9L1244.3 2037.5L1247.3 2037.3L1250.3 2037.2L1253.3 2037.5L1256.3 2037.9L1259.3 2038.6L1262.3 2039.5L1265.3 2040.4L1268.3 2041.5L1271.3 2042.6L1274.3 2043.7L1277.3 2044.9L1280.3 2046.1L1283.3 2047.4L1286.3 2048.7L1289.3 2049.9L1292.3 2051.1L1295.3 2052.2L1298.3 2053.1L1301.3 2053.9L1304.3 2054.5L1307.3 2055.0L1310.3 2055.4L1313.3 2055.8L1316.3 2056.1L1319.3 2056.4L1322.3 2056.7L1325.3 2056.9L1328.3 2057.1L1331.3 2057.3L1334.3 2057.5L1337.3 2057.7L1340.3 2057.9L1343.3 2058.0L1346.3 2058.2L1349.3 2058.3L1352.3 2058.4L1355.3 2058.6L1358.3 2058.7L1361.3 2058.8L1364.3 2058.9L1367.3 2059.0L1370.3 2059.1L1373.3 2059.2L1376.3 2059.3L1379.3 2059.4L1382.3 2059.5L1385.3 2059.5L1388.3 2059.6L1391.3 2059.7L1394.3 2059.8L1397.3 2059.9L1400.3 2060.1L1403.3 2060.2L1406.3 2060.3L1409.3 2060.4L1412.3 2060.5L1415.3 2060.7L1418.3 2060.8L1421.3 2061.0L1424.3 2061.1L1427.3 2061.3L1430.3 2061.5L1433.3 2061.6L1436.3 2061.8L1439.3 2062.0L1442.3 2062.1L1445.3 2062.3L1448.3 2062.5L1451.3 2062.7L1454.3 2062.9L1457.3 2063.0L1460.3 2063.2L1463.3 2063.4L1466.3 2063.6L1469.3 2063.8L1472.3 2064.0L1475.3 2064.2L1478.3 2064.5L1481.3 2064.7L1484.3 2064.9L1487.3 2065.1L1490.3 2065.3L1493.3 2065.6L1496.3 2065.8L1499.3 2066.0L1502.3 2066.3L1505.3 2066.5L1508.3 2066.7L1511.3 2067.0L1514.3 2067.2L1517.3 2067.5L1520.3 2067.7L1523.3 2068.0L1526.3 2068.2L1529.3 2068.5L1532.3 2068.7L1535.3 2068.9L1538.3 2069.0" fill="none" stroke="#d88a3b" stroke-width="3" stroke-linejoin="round"/>
<path d="M905.3 2056.2L908.3 2056.4L911.3 2056.7L914.3 2057.1L917.3 2057.4L920.3 2057.7L923.3 2058.1L926.3 2058.4L929.3 2058.7L932.3 2058.9L935.3 2059.2L938.3 2059.4L941.3 2059.6L944.3 2059.8L947.3 2060.0L950.3 2060.2L953.3 2060.3L956.3 2060.4L959.3 2060.5L962.3 2060.5L965.3 2060.6L968.3 2060.6L971.3 2060.7L974.3 2060.7L977.3 2060.8L980.3 2060.8L983.3 2060.8L986.3 2060.9L989.3 2060.9L992.3 2060.9L995.3 2060.9L998.3 2061.0L1001.3 2061.0L1004.3 2061.0L1007.3 2061.0L1010.3 2060.9L1013.3 2060.5L1016.3 2059.9L1019.3 2059.0L1022.3 2058.1L1025.3 2057.3L1028.3 2056.5L1031.3 2055.7L1034.3 2054.9L1037.3 2054.0L1040.3 2052.9L1043.3 2051.6L1046.3 2049.8L1049.3 2047.5L1052.3 2044.8L1055.3 2041.8L1058.3 2038.6L1061.3 2035.3L1064.3 2031.8L1067.3 2027.9L1070.3 2023.7L1073.3 2019.2L1076.3 2014.7L1079.3 2010.2L1082.3 2005.7L1085.3 2001.2L1088.3 1996.5L1091.3 1991.9L1094.3 1987.4L1097.3 1983.0L1100.3 1979.0L1103.3 1975.1L1106.3 1971.4L1109.3 1967.7L1112.3 1964.4L1115.3 1961.4L1118.3 1958.8L1121.3 1956.6L1124.3 1954.6L1127.3 1952.9L1130.3 1951.7L1133.3 1951.3L1136.3 1951.7L1139.3 1952.7L1142.3 1954.2L1145.3 1956.1L1148.3 1958.9L1151.3 1962.9L1154.3 1968.0L1157.3 1973.7L1160.3 1979.9L1163.3 1986.6L1166.3 1993.9L1169.3 2001.4L1172.3 2009.1L1175.3 2017.1L1178.3 2024.8L1181.3 2032.0L1184.3 2038.0L1187.3 2040.3L1190.3 2038.2L1193.3 2033.2L1196.3 2027.0L1199.3 2020.0L1202.3 2012.7L1205.3 2005.6L1208.3 1999.0L1211.3 1992.9L1214.3 1987.2L1217.3 1982.3L1220.3 1978.2L1223.3 1974.8L1226.3 1971.9L1229.3 1969.5L1232.3 1967.8L1235.3 1966.6L1238.3 1965.7L1241.3 1965.3L1244.3 1965.3L1247.3 1965.8L1250.3 1966.8L1253.3 1968.1L1256.3 1970.0L1259.3 1972.7L1262.3 1975.9L1265.3 1979.5L1268.3 1983.1L1271.3 1986.4L1274.3 1989.7L1277.3 1993.1L1280.3 1996.4L1283.3 1999.7L1286.3 2002.9L1289.3 2006.1L1292.3 2009.2L1295.3 2012.3L1298.3 2015.2L1301.3 2017.9L1304.3 2020.6L1307.3 2023.2L1310.3 2025.6L1313.3 2027.9L1316.3 2029.9L1319.3 2031.6L1322.3 2033.2L1325.3 2034.6L1328.3 2035.8L1331.3 2037.1L1334.3 2038.3L1337.3 2039.5L1340.3 2040.8L1343.3 2042.1L1346.3 2043.4L1349.3 2044.6L1352.3 2045.7L1355.3 2046.7L1358.3 2047.7L1361.3 2048.6L1364.3 2049.5L1367.3 2050.3L1370.3 2051.0L1373.3 2051.6L1376.3 2052.1L1379.3 2052.5L1382.3 2052.9L1385.3 2053.3L1388.3 2053.6L1391.3 2053.9L1394.3 2054.2L1397.3 2054.4L1400.3 2054.7L1403.3 2054.9L1406.3 2055.2L1409.3 2055.4L1412.3 2055.7L1415.3 2055.9L1418.3 2056.2L1421.3 2056.4L1424.3 2056.6L1427.3 2056.9L1430.3 2057.1L1433.3 2057.3L1436.3 2057.5L1439.3 2057.7L1442.3 2057.9L1445.3 2058.2L1448.3 2058.4L1451.3 2058.6L1454.3 2058.9L1457.3 2059.2L1460.3 2059.4L1463.3 2059.7L1466.3 2060.0L1469.3 2060.2L1472.3 2060.5L1475.3 2060.8L1478.3 2061.1L1481.3 2061.4L1484.3 2061.6L1487.3 2061.9L1490.3 2062.2L1493.3 2062.5L1496.3 2062.8L1499.3 2063.1L1502.3 2063.5L1505.3 2063.8L1508.3 2064.1L1511.3 2064.4L1514.3 2064.7L1517.3 2065.1L1520.3 2065.4L1523.3 2065.7L1526.3 2066.1L1529.3 2066.4L1532.3 2066.8L1535.3 2067.1L1538.3 2067.4" fill="none" stroke="#b07a42" stroke-width="3" stroke-linejoin="round"/>
<path d="M905.3 2051.0L907.3 2051.2L909.3 2051.5L911.3 2051.7L913.3 2051.9L915.3 2052.1L917.3 2052.3L919.3 2052.5L921.3 2052.7L923.3 2052.8L925.3 2053.0L927.3 2053.2L929.3 2053.4L931.3 2053.5L933.3 2053.7L935.3 2053.8L937.3 2054.0L937.9 2054.0L939.3 2054.1L941.3 2054.2L943.3 2054.3L945.3 2054.5L947.3 2054.6L949.3 2054.7L951.3 2054.8L953.3 2054.9L955.3 2055.0L957.3 2055.1L959.3 2055.2L961.3 2055.3L963.3 2055.4L965.3 2055.5L967.3 2055.6L969.3 2055.7L971.3 2055.8L973.3 2055.9L975.3 2056.0L976.0 2056.0L977.3 2056.1L979.3 2056.1L981.3 2056.2L983.3 2056.3L985.3 2056.4L987.3 2056.5L989.3 2056.5L990.0 2056.5L991.3 2056.5L993.3 2056.3L995.3 2056.0L997.3 2055.6L999.3 2055.1L1001.3 2054.6L1003.3 2054.1L1004.2 2053.8L1005.3 2053.5L1007.3 2052.8L1009.3 2051.9L1011.3 2050.9L1013.3 2049.8L1015.3 2048.6L1017.3 2047.3L1019.3 2045.8L1021.3 2044.2L1023.3 2042.5L1023.5 2042.3L1025.3 2040.5L1027.3 2038.0L1029.3 2035.2L1031.3 2031.9L1033.3 2028.3L1035.3 2024.5L1037.3 2020.4L1038.8 2017.3L1039.3 2016.2L1041.3 2011.3L1043.3 2005.8L1045.3 1999.7L1047.3 1993.3L1049.3 1986.8L1051.3 1980.2L1052.3 1977.0L1053.3 1973.8L1055.3 1967.3L1057.3 1960.7L1059.3 1953.9L1061.3 1947.0L1063.3 1939.9L1065.3 1932.6L1065.8 1930.8L1067.3 1925.2L1069.3 1917.4L1071.3 1909.4L1073.3 1901.3L1075.3 1893.1L1077.3 1884.9L1079.3 1876.7L1081.2 1869.2L1081.3 1868.8L1083.3 1860.9L1085.3 1853.1L1087.3 1845.3L1089.3 1837.6L1091.3 1830.1L1092.7 1825.0L1093.3 1822.8L1095.3 1815.7L1097.3 1808.5L1099.3 1801.6L1101.3 1795.1L1103.3 1789.0L1104.2 1786.5L1105.3 1783.5L1107.3 1778.2L1109.3 1773.2L1111.3 1768.5L1113.3 1764.2L1115.3 1760.4L1115.8 1759.6L1117.3 1757.1L1119.3 1754.0L1121.3 1751.1L1123.3 1748.7L1125.3 1747.1L1125.4 1747.0L1127.3 1745.8L1129.3 1744.8L1131.3 1744.0L1133.0 1743.8L1133.3 1743.8L1135.3 1744.3L1137.3 1745.4L1139.3 1746.8L1140.8 1748.0L1141.3 1748.4L1143.3 1750.9L1145.3 1754.2L1147.3 1758.3L1149.3 1762.8L1150.4 1765.4L1151.3 1767.7L1153.3 1773.7L1155.3 1780.7L1157.3 1788.5L1159.3 1796.9L1160.0 1800.0L1161.3 1806.0L1163.3 1816.1L1165.3 1827.3L1167.3 1839.3L1169.3 1851.9L1169.6 1853.8L1171.3 1865.3L1173.3 1880.0L1175.3 1895.6L1177.3 1911.5L1179.3 1928.6L1181.3 1946.2L1183.0 1959.6L1183.3 1961.8L1185.3 1977.8L1187.0 1984.6L1187.3 1984.5L1189.3 1981.2L1190.8 1977.0L1191.3 1975.2L1193.3 1963.9L1195.3 1949.0L1196.5 1940.4L1197.3 1934.9L1199.3 1920.2L1201.3 1905.1L1203.3 1890.4L1205.3 1877.1L1206.0 1873.0L1207.3 1865.7L1209.3 1855.0L1211.3 1845.0L1213.3 1836.1L1215.3 1828.6L1215.8 1827.0L1217.3 1822.3L1219.3 1816.5L1221.3 1811.1L1223.3 1806.5L1225.3 1802.7L1227.3 1800.0L1229.3 1797.9L1231.3 1795.9L1233.3 1794.3L1235.3 1793.0L1237.3 1792.2L1238.8 1792.0L1239.3 1792.0L1241.3 1792.5L1243.3 1793.6L1245.3 1795.0L1247.3 1796.8L1249.3 1798.9L1250.4 1800.0L1251.3 1801.1L1253.3 1804.4L1255.3 1808.7L1257.3 1813.7L1259.3 1819.0L1261.3 1824.4L1263.3 1829.6L1263.8 1830.8L1265.3 1834.4L1267.3 1839.3L1269.3 1844.3L1271.3 1849.3L1273.3 1854.3L1275.3 1859.4L1277.3 1864.4L1279.2 1869.2L1279.3 1869.4L1281.3 1874.5L1283.3 1879.5L1285.3 1884.6L1287.3 1889.6L1289.3 1894.7L1291.3 1899.7L1293.3 1904.7L1295.3 1909.6L1297.3 1914.4L1298.5 1917.3L1299.3 1919.2L1301.3 1924.0L1303.3 1928.7L1305.3 1933.4L1307.3 1937.9L1309.3 1942.3L1311.3 1946.6L1312.0 1948.0L1313.3 1950.6L1315.3 1954.6L1317.3 1958.4L1319.3 1962.0L1321.3 1965.1L1321.5 1965.4L1323.3 1967.9L1325.3 1970.4L1327.3 1972.7L1329.3 1974.9L1331.3 1977.0L1333.0 1978.8L1333.3 1979.1L1335.3 1981.1L1337.3 1983.0L1339.3 1984.8L1341.3 1986.9L1342.7 1988.5L1343.3 1989.3L1345.3 1992.1L1347.3 1995.3L1349.3 1998.7L1351.3 2002.1L1352.3 2003.8L1353.3 2005.5L1355.3 2008.9L1357.3 2012.5L1359.3 2016.0L1361.3 2019.3L1363.3 2022.3L1363.8 2023.0L1365.3 2024.9L1367.3 2027.4L1369.3 2029.8L1371.3 2031.9L1373.3 2033.9L1375.3 2035.5L1375.4 2035.6L1377.3 2037.0L1379.3 2038.4L1381.3 2039.7L1383.3 2040.9L1385.3 2041.9L1387.3 2042.9L1389.3 2043.7L1390.8 2044.2L1391.3 2044.4L1393.3 2044.9L1395.3 2045.5L1397.3 2046.0L1399.3 2046.4L1401.3 2046.8L1403.3 2047.2L1405.3 2047.6L1407.3 2047.9L1409.3 2048.3L1411.3 2048.6L1413.3 2048.9L1413.8 2049.0L1415.3 2049.2L1417.3 2049.5L1419.3 2049.8L1421.3 2050.1L1423.3 2050.4L1425.3 2050.6L1427.3 2050.8L1429.3 2051.1L1431.3 2051.3L1433.3 2051.5L1435.3 2051.8L1437.3 2052.0L1439.3 2052.2L1441.3 2052.4L1443.3 2052.7L1445.3 2052.9L1447.3 2053.2L1449.3 2053.4L1451.3 2053.7L1452.3 2053.8L1453.3 2053.9L1455.3 2054.2L1457.3 2054.5L1459.3 2054.8L1461.3 2055.1L1463.3 2055.4L1465.3 2055.8L1467.3 2056.1L1469.3 2056.4L1471.3 2056.7L1473.3 2057.0L1475.3 2057.4L1477.3 2057.7L1479.3 2058.0L1481.3 2058.3L1483.3 2058.6L1485.3 2058.9L1487.3 2059.1L1489.3 2059.4L1490.8 2059.6L1491.3 2059.7L1493.3 2059.9L1495.3 2060.1L1497.3 2060.4L1499.3 2060.6L1501.3 2060.9L1503.3 2061.1L1505.3 2061.3L1507.3 2061.5L1509.3 2061.8L1511.3 2062.0L1513.3 2062.2L1515.3 2062.4L1517.3 2062.6L1519.3 2062.8L1521.3 2063.0L1523.3 2063.2L1525.3 2063.4L1527.3 2063.6L1529.3 2063.7L1531.3 2063.9L1533.3 2064.1L1535.3 2064.2L1537.3 2064.4L1538.5 2064.5" fill="none" stroke="#8c6239" stroke-width="3" stroke-linejoin="round"/>
<path d="M1126.8 1716.7H1139V2090.4H1145.4L1132.9 2114.6L1120.4 2090.4H1126.8Z" fill="#5270b0" fill-opacity="0.74"/>
<rect x="905.3" y="1636.2" width="633.5" height="507.79999999999995" fill="none" stroke="#000" stroke-width="3.1"/>
<path d="M950.5 2144v-5.5M995.8 2144v-10M1041.0 2144v-5.5M1086.3 2144v-10M1131.5 2144v-5.5M1176.8 2144v-10M1222.0 2144v-5.5M1267.3 2144v-10M1312.5 2144v-5.5M1357.8 2144v-10M1403.0 2144v-5.5M1448.3 2144v-10M1493.5 2144v-5.5" stroke="#000" stroke-width="2.6" fill="none"/>
<text x="903.7" y="2176.3" font-size="25" font-weight="bold" fill="#000" text-anchor="middle" textLength="58" lengthAdjust="spacing">2300</text>
<text x="994.2" y="2176.3" font-size="25" font-weight="bold" fill="#000" text-anchor="middle" textLength="58" lengthAdjust="spacing">2250</text>
<text x="1084.7" y="2176.3" font-size="25" font-weight="bold" fill="#000" text-anchor="middle" textLength="58" lengthAdjust="spacing">2200</text>
<text x="1175.2" y="2176.3" font-size="25" font-weight="bold" fill="#000" text-anchor="middle" textLength="58" lengthAdjust="spacing">2150</text>
<text x="1265.7" y="2176.3" font-size="25" font-weight="bold" fill="#000" text-anchor="middle" textLength="58" lengthAdjust="spacing">2100</text>
<text x="1356.2" y="2176.3" font-size="25" font-weight="bold" fill="#000" text-anchor="middle" textLength="58" lengthAdjust="spacing">2050</text>
<text x="1446.7" y="2176.3" font-size="25" font-weight="bold" fill="#000" text-anchor="middle" textLength="58" lengthAdjust="spacing">2000</text>
<text x="1537.2" y="2176.3" font-size="25" font-weight="bold" fill="#000" text-anchor="middle" textLength="58" lengthAdjust="spacing">1950</text>
<text x="1221.3" y="2225" font-size="29.5" font-weight="bold" text-anchor="middle" textLength="270" lengthAdjust="spacingAndGlyphs">Wavenumber (cm<tspan font-size="18.3" dy="-10.6">-1</tspan><tspan dy="10.6">)</tspan></text>
<text transform="translate(863.4,1876.8) rotate(-90)" font-size="30" font-weight="bold" text-anchor="middle" textLength="244" lengthAdjust="spacing">Adsorbance (a.u.)</text>
<path d="M918.2 1660.4H981" stroke="#8c6239" stroke-width="3.6" fill="none"/>
<text x="987.2" y="1669.2" font-size="25" font-weight="bold" fill="#000" text-anchor="start" textLength="68" lengthAdjust="spacing">0 min</text>
<path d="M918.2 1694H981" stroke="#b07a42" stroke-width="3.6" fill="none"/>
<text x="987.2" y="1702.8" font-size="25" font-weight="bold" fill="#000" text-anchor="start" textLength="82" lengthAdjust="spacing">10 min</text>
<path d="M918.2 1727.5H981" stroke="#d88a3b" stroke-width="3.6" fill="none"/>
<text x="987.2" y="1736.3" font-size="25" font-weight="bold" fill="#000" text-anchor="start" textLength="82" lengthAdjust="spacing">20 min</text>
<path d="M918.2 1760.6H981" stroke="#ff9a3e" stroke-width="2.2" fill="none"/>
<text x="987.2" y="1769.4" font-size="25" font-weight="bold" fill="#000" text-anchor="start" textLength="82" lengthAdjust="spacing">30 min</text>
<path d="M918.2 1794.2H981" stroke="#ffbb5e" stroke-width="2.2" fill="none"/>
<text x="987.2" y="1803.0" font-size="25" font-weight="bold" fill="#000" text-anchor="start" textLength="82" lengthAdjust="spacing">40 min</text>
<path d="M918.2 1827.3H981" stroke="#ffde85" stroke-width="2.2" fill="none"/>
<text x="987.2" y="1836.1" font-size="25" font-weight="bold" fill="#000" text-anchor="start" textLength="82" lengthAdjust="spacing">50 min</text>
<path d="M918.2 1861H981" stroke="#fffc9e" stroke-width="3.4" fill="none"/>
<text x="987.2" y="1869.8" font-size="25" font-weight="bold" fill="#000" text-anchor="start" textLength="82" lengthAdjust="spacing">60 min</text>
<text x="805.4" y="1621" font-size="42" font-weight="bold" fill="#000" text-anchor="start" letter-spacing="1">(f)</text>
<text x="1098.8" y="1689.7" font-size="32" font-weight="bold" fill="#000" text-anchor="start" letter-spacing="0.6">Time</text>
<text x="945.5" y="2044" font-size="28" font-weight="bold" fill="#000" text-anchor="start" textLength="41" lengthAdjust="spacing">AT</text>
<text x="1208.4" y="1760.6" font-size="25" font-weight="bold" fill="#000" text-anchor="start" textLength="58" lengthAdjust="spacing">2116</text>
<text x="1319" y="1948" font-size="25" font-weight="bold" fill="#000" text-anchor="start" textLength="57" lengthAdjust="spacing">2106</text>
<text x="1445.4" y="1697.5" font-size="25" font-weight="bold" fill="#000" text-anchor="start" textLength="49.5" lengthAdjust="spacing">0.01</text>
<path d="M1238.8 1766.3V1821" stroke="#000" stroke-width="3.7" stroke-dasharray="7.5 4.8" fill="none"/>
<path d="M1341.2 1953.8V2008.7" stroke="#000" stroke-width="3.7" stroke-dasharray="7.5 4.8" fill="none"/>
<rect x="1504" y="1660" width="6" height="51.5" fill="#000"/>
</g>
</svg>
</body></html>
